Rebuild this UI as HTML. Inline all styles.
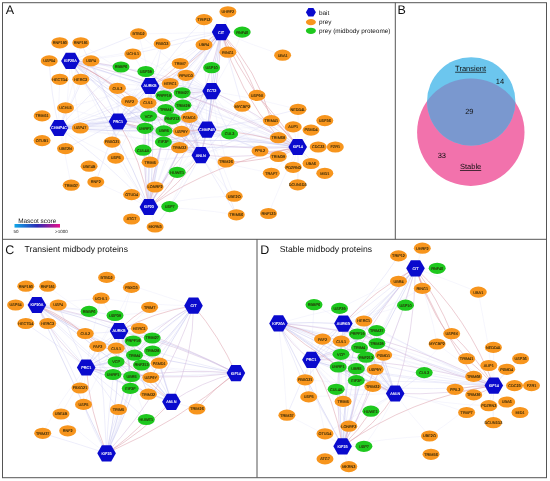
<!DOCTYPE html>
<html><head><meta charset="utf-8"><title>Figure</title>
<style>
html,body{margin:0;padding:0;background:#fff;}
body{width:550px;height:481px;overflow:hidden;font-family:"Liberation Sans",sans-serif;}
svg{display:block}
text{font-family:"Liberation Sans",sans-serif;text-rendering:geometricPrecision;}
.k{font-size:3.8px;fill:#2a2208;stroke:#2a2208;stroke-width:0.09px;text-anchor:middle;}
.w{font-size:3.8px;fill:#fff;stroke:#fff;stroke-width:0.12px;text-anchor:middle;}
.pl{font-size:12.5px;fill:#111;}
.tt{font-size:8.6px;fill:#111;}
.lg{font-size:6.4px;fill:#111;}
.vn{font-size:7.5px;fill:#111;text-anchor:middle;}
</style></head><body>
<svg width="550" height="481" viewBox="0 0 550 481">
<defs><linearGradient id="ms" x1="0" x2="1" y1="0" y2="0"><stop offset="0" stop-color="#10a8e8"/><stop offset="0.5" stop-color="#2a2ab4"/><stop offset="1" stop-color="#e8108c"/></linearGradient></defs>
<rect width="550" height="481" fill="#fff"/>
<g id="edgesA" fill="none"><path d="M70.4 60.9Q64.3 52.3 59.8 42.8" stroke="#ebebfa" stroke-width="0.45"/>
<path d="M70.4 60.9Q76.5 52.4 80.8 42.8" stroke="#ebebfa" stroke-width="0.45"/>
<path d="M70.4 60.9Q59.8 61.4 49.2 60.9" stroke="#ebebfa" stroke-width="0.45"/>
<path d="M70.4 60.9Q80.7 61.4 91.0 60.9" stroke="#ebebfa" stroke-width="0.45"/>
<path d="M70.4 60.9Q66.0 70.6 59.8 79.3" stroke="#ebebfa" stroke-width="0.45"/>
<path d="M70.4 60.9Q75.0 70.4 80.8 79.3" stroke="#ebebfa" stroke-width="0.45"/>
<path d="M70.4 60.9Q117.1 56.7 162.1 43.9" stroke="#ebebfa" stroke-width="0.45"/>
<path d="M70.4 60.9Q101.7 58.6 132.8 54.0" stroke="#ebebfa" stroke-width="0.45"/>
<path d="M70.4 60.9Q125.2 80.7 182.2 92.8" stroke="#ebebfa" stroke-width="0.45"/>
<path d="M70.4 60.9Q129.2 76.6 183.0 105.2" stroke="#ebebfa" stroke-width="0.45"/>
<path d="M70.4 60.9Q124.4 84.6 172.3 118.9" stroke="#ebebfa" stroke-width="0.45"/>
<path d="M70.4 60.9Q74.4 94.6 80.3 128.0" stroke="#ebebfa" stroke-width="0.45"/>
<path d="M70.4 60.9Q65.9 104.6 65.5 148.6" stroke="#ebebfa" stroke-width="0.45"/>
<path d="M70.4 60.9Q95.1 99.5 112.1 142.1" stroke="#ebebfa" stroke-width="0.45"/>
<path d="M150.1 86.0Q113.5 67.5 80.8 42.8" stroke="#ebebfa" stroke-width="0.45"/>
<path d="M150.1 86.0Q121.7 70.7 91.0 60.9" stroke="#ebebfa" stroke-width="0.45"/>
<path d="M150.1 86.0Q115.3 84.4 80.8 79.3" stroke="#ebebfa" stroke-width="0.45"/>
<path d="M150.1 86.0Q146.2 59.5 138.5 33.9" stroke="#ebebfa" stroke-width="0.45"/>
<path d="M150.1 86.0Q142.6 69.4 132.8 54.0" stroke="#ebebfa" stroke-width="0.45"/>
<path d="M150.1 86.0Q148.3 78.7 145.8 71.5" stroke="#ebebfa" stroke-width="0.45"/>
<path d="M150.1 86.0Q166.0 96.5 183.0 105.2" stroke="#ebebfa" stroke-width="0.45"/>
<path d="M150.1 86.0Q162.3 101.7 172.3 118.9" stroke="#ebebfa" stroke-width="0.45"/>
<path d="M150.1 86.0Q181.6 79.3 211.6 67.7" stroke="#ebebfa" stroke-width="0.45"/>
<path d="M150.1 86.0Q107.5 95.8 65.5 107.9" stroke="#ebebfa" stroke-width="0.45"/>
<path d="M150.1 86.0Q116.4 109.1 80.3 128.0" stroke="#ebebfa" stroke-width="0.45"/>
<path d="M150.1 86.0Q134.4 122.8 115.7 158.1" stroke="#ebebfa" stroke-width="0.45"/>
<path d="M150.1 86.0Q189.2 111.0 229.6 133.9" stroke="#ebebfa" stroke-width="0.45"/>
<path d="M150.1 86.0Q146.4 124.1 150.1 162.2" stroke="#ebebfa" stroke-width="0.45"/>
<path d="M221.1 32.1Q179.8 33.4 138.5 33.9" stroke="#ebebfa" stroke-width="0.45"/>
<path d="M221.1 32.1Q184.6 54.0 145.8 71.5" stroke="#ebebfa" stroke-width="0.45"/>
<path d="M221.1 32.1Q171.4 61.6 129.5 101.4" stroke="#ebebfa" stroke-width="0.45"/>
<path d="M221.1 32.1Q185.1 74.3 148.6 116.2" stroke="#ebebfa" stroke-width="0.45"/>
<path d="M221.1 32.1Q212.7 25.7 204.0 19.6" stroke="#ebebfa" stroke-width="0.45"/>
<path d="M221.1 32.1Q224.8 22.0 227.9 11.8" stroke="#ebebfa" stroke-width="0.45"/>
<path d="M221.1 32.1Q231.6 31.4 242.2 32.1" stroke="#ebebfa" stroke-width="0.45"/>
<path d="M221.1 32.1Q216.9 50.0 211.6 67.7" stroke="#ebebfa" stroke-width="0.45"/>
<path d="M221.1 32.1Q186.6 82.9 145.1 128.3" stroke="#ebebfa" stroke-width="0.45"/>
<path d="M221.1 32.1Q183.5 92.1 143.1 150.2" stroke="#ebebfa" stroke-width="0.45"/>
<path d="M221.1 32.1Q251.5 44.7 282.6 55.2" stroke="#ebebfa" stroke-width="0.45"/>
<path d="M211.6 91.1Q173.5 64.4 138.5 33.9" stroke="#ebebfa" stroke-width="0.45"/>
<path d="M211.6 91.1Q171.4 74.2 132.8 54.0" stroke="#ebebfa" stroke-width="0.45"/>
<path d="M211.6 91.1Q165.9 80.4 121.0 67.0" stroke="#ebebfa" stroke-width="0.45"/>
<path d="M211.6 91.1Q187.6 91.8 163.9 95.8" stroke="#ebebfa" stroke-width="0.45"/>
<path d="M211.6 91.1Q164.4 92.4 117.4 88.3" stroke="#ebebfa" stroke-width="0.45"/>
<path d="M211.6 91.1Q179.3 101.6 148.6 116.2" stroke="#ebebfa" stroke-width="0.45"/>
<path d="M211.6 91.1Q203.9 55.8 204.0 19.6" stroke="#ebebfa" stroke-width="0.45"/>
<path d="M211.6 91.1Q223.2 52.2 227.9 11.8" stroke="#ebebfa" stroke-width="0.45"/>
<path d="M211.6 91.1Q230.2 63.3 242.2 32.1" stroke="#ebebfa" stroke-width="0.45"/>
<path d="M211.6 91.1Q211.5 79.4 211.6 67.7" stroke="#ebebfa" stroke-width="0.45"/>
<path d="M211.6 91.1Q187.4 116.5 163.4 142.1" stroke="#ebebfa" stroke-width="0.45"/>
<path d="M211.6 91.1Q217.2 126.9 226.0 162.0" stroke="#ebebfa" stroke-width="0.45"/>
<path d="M211.6 91.1Q177.5 123.7 150.1 162.2" stroke="#ebebfa" stroke-width="0.45"/>
<path d="M211.6 91.1Q255.3 97.6 298.0 109.3" stroke="#ebebfa" stroke-width="0.45"/>
<path d="M211.6 91.1Q244.8 114.7 278.3 137.7" stroke="#ebebfa" stroke-width="0.45"/>
<path d="M211.6 91.1Q233.2 123.1 260.0 151.0" stroke="#ebebfa" stroke-width="0.45"/>
<path d="M118.0 121.5Q142.3 84.0 162.1 43.9" stroke="#ebebfa" stroke-width="0.45"/>
<path d="M118.0 121.5Q118.7 94.2 121.0 67.0" stroke="#ebebfa" stroke-width="0.45"/>
<path d="M118.0 121.5Q131.2 96.1 145.8 71.5" stroke="#ebebfa" stroke-width="0.45"/>
<path d="M118.0 121.5Q151.3 97.3 186.0 75.3" stroke="#ebebfa" stroke-width="0.45"/>
<path d="M118.0 121.5Q116.3 104.9 117.4 88.3" stroke="#ebebfa" stroke-width="0.45"/>
<path d="M118.0 121.5Q91.5 115.8 65.5 107.9" stroke="#ebebfa" stroke-width="0.45"/>
<path d="M118.0 121.5Q116.1 132.1 112.1 142.1" stroke="#ebebfa" stroke-width="0.45"/>
<path d="M118.0 121.5Q131.5 135.0 143.1 150.2" stroke="#ebebfa" stroke-width="0.45"/>
<path d="M118.0 121.5Q133.5 142.3 150.1 162.2" stroke="#ebebfa" stroke-width="0.45"/>
<path d="M59.0 128.0Q74.6 86.6 80.8 42.8" stroke="#ebebfa" stroke-width="0.45"/>
<path d="M59.0 128.0Q58.2 103.6 59.8 79.3" stroke="#ebebfa" stroke-width="0.45"/>
<path d="M59.0 128.0Q70.0 103.7 80.8 79.3" stroke="#ebebfa" stroke-width="0.45"/>
<path d="M59.0 128.0Q113.6 103.2 170.2 83.5" stroke="#ebebfa" stroke-width="0.45"/>
<path d="M59.0 128.0Q122.6 117.3 182.2 92.8" stroke="#ebebfa" stroke-width="0.45"/>
<path d="M59.0 128.0Q90.0 110.7 117.4 88.3" stroke="#ebebfa" stroke-width="0.45"/>
<path d="M59.0 128.0Q104.4 126.7 148.6 116.2" stroke="#ebebfa" stroke-width="0.45"/>
<path d="M59.0 128.0Q63.2 118.3 65.5 107.9" stroke="#ebebfa" stroke-width="0.45"/>
<path d="M59.0 128.0Q50.9 121.5 42.1 115.9" stroke="#ebebfa" stroke-width="0.45"/>
<path d="M59.0 128.0Q69.7 128.6 80.3 128.0" stroke="#ebebfa" stroke-width="0.45"/>
<path d="M59.0 128.0Q51.0 134.9 42.1 140.6" stroke="#ebebfa" stroke-width="0.45"/>
<path d="M59.0 128.0Q62.8 138.1 65.5 148.6" stroke="#ebebfa" stroke-width="0.45"/>
<path d="M59.0 128.0Q86.9 143.9 115.7 158.1" stroke="#ebebfa" stroke-width="0.45"/>
<path d="M59.0 128.0Q65.7 156.5 71.2 185.2" stroke="#ebebfa" stroke-width="0.45"/>
<path d="M59.0 128.0Q111.4 133.3 163.4 142.1" stroke="#ebebfa" stroke-width="0.45"/>
<path d="M59.0 128.0Q120.3 131.3 179.5 147.7" stroke="#ebebfa" stroke-width="0.45"/>
<path d="M207.0 129.6Q193.5 96.6 180.2 63.5" stroke="#ebebfa" stroke-width="0.45"/>
<path d="M207.0 129.6Q197.2 102.2 186.0 75.3" stroke="#ebebfa" stroke-width="0.45"/>
<path d="M207.0 129.6Q193.7 118.7 183.0 105.2" stroke="#ebebfa" stroke-width="0.45"/>
<path d="M207.0 129.6Q177.1 126.0 148.6 116.2" stroke="#ebebfa" stroke-width="0.45"/>
<path d="M207.0 129.6Q206.2 87.1 204.0 44.7" stroke="#ebebfa" stroke-width="0.45"/>
<path d="M207.0 129.6Q218.4 131.2 229.6 133.9" stroke="#ebebfa" stroke-width="0.45"/>
<path d="M207.0 129.6Q175.0 139.7 143.1 150.2" stroke="#ebebfa" stroke-width="0.45"/>
<path d="M207.0 129.6Q191.9 150.8 177.2 172.3" stroke="#ebebfa" stroke-width="0.45"/>
<path d="M207.0 129.6Q189.2 168.5 169.7 206.6" stroke="#ebebfa" stroke-width="0.45"/>
<path d="M207.0 129.6Q222.2 162.3 234.2 196.2" stroke="#ebebfa" stroke-width="0.45"/>
<path d="M207.0 129.6Q238.8 122.3 271.3 120.6" stroke="#ebebfa" stroke-width="0.45"/>
<path d="M207.0 129.6Q250.1 126.9 293.2 126.9" stroke="#ebebfa" stroke-width="0.45"/>
<path d="M207.0 129.6Q242.3 136.5 278.3 137.7" stroke="#ebebfa" stroke-width="0.45"/>
<path d="M207.0 129.6Q234.4 138.1 260.0 151.0" stroke="#ebebfa" stroke-width="0.45"/>
<path d="M207.0 129.6Q252.3 143.4 293.2 167.3" stroke="#ebebfa" stroke-width="0.45"/>
<path d="M200.8 155.2Q196.3 114.7 186.0 75.3" stroke="#ebebfa" stroke-width="0.45"/>
<path d="M200.8 155.2Q175.7 127.8 148.1 103.0" stroke="#ebebfa" stroke-width="0.45"/>
<path d="M200.8 155.2Q174.5 136.0 148.6 116.2" stroke="#ebebfa" stroke-width="0.45"/>
<path d="M200.8 155.2Q158.4 161.1 115.7 158.1" stroke="#ebebfa" stroke-width="0.45"/>
<path d="M200.8 155.2Q213.7 157.5 226.0 162.0" stroke="#ebebfa" stroke-width="0.45"/>
<path d="M200.8 155.2Q175.3 157.7 150.1 162.2" stroke="#ebebfa" stroke-width="0.45"/>
<path d="M200.8 155.2Q189.5 164.4 177.2 172.3" stroke="#ebebfa" stroke-width="0.45"/>
<path d="M200.8 155.2Q176.8 169.4 155.1 187.0" stroke="#ebebfa" stroke-width="0.45"/>
<path d="M200.8 155.2Q215.2 177.6 234.2 196.2" stroke="#ebebfa" stroke-width="0.45"/>
<path d="M200.8 155.2Q238.6 142.3 278.3 137.7" stroke="#ebebfa" stroke-width="0.45"/>
<path d="M200.8 155.2Q235.4 167.0 271.3 173.3" stroke="#ebebfa" stroke-width="0.45"/>
<path d="M148.9 207.0Q170.9 151.5 182.2 92.8" stroke="#ebebfa" stroke-width="0.45"/>
<path d="M148.9 207.0Q167.1 156.5 183.0 105.2" stroke="#ebebfa" stroke-width="0.45"/>
<path d="M148.9 207.0Q132.8 182.2 115.7 158.1" stroke="#ebebfa" stroke-width="0.45"/>
<path d="M148.9 207.0Q122.7 193.9 95.8 182.0" stroke="#ebebfa" stroke-width="0.45"/>
<path d="M148.9 207.0Q140.3 200.8 131.6 194.6" stroke="#ebebfa" stroke-width="0.45"/>
<path d="M148.9 207.0Q140.3 213.0 131.6 219.0" stroke="#ebebfa" stroke-width="0.45"/>
<path d="M148.9 207.0Q162.2 167.9 181.5 131.4" stroke="#ebebfa" stroke-width="0.45"/>
<path d="M148.9 207.0Q152.3 173.7 163.4 142.1" stroke="#ebebfa" stroke-width="0.45"/>
<path d="M148.9 207.0Q159.3 205.7 169.7 206.6" stroke="#ebebfa" stroke-width="0.45"/>
<path d="M148.9 207.0Q190.9 196.7 234.2 196.2" stroke="#ebebfa" stroke-width="0.45"/>
<path d="M148.9 207.0Q192.9 207.6 236.3 214.8" stroke="#ebebfa" stroke-width="0.45"/>
<path d="M148.9 207.0Q152.8 216.7 155.1 227.0" stroke="#ebebfa" stroke-width="0.45"/>
<path d="M297.7 147.0Q237.1 109.0 170.2 83.5" stroke="#ebebfa" stroke-width="0.45"/>
<path d="M297.7 147.0Q237.4 125.4 182.2 92.8" stroke="#ebebfa" stroke-width="0.45"/>
<path d="M297.7 147.0Q240.9 124.5 183.0 105.2" stroke="#ebebfa" stroke-width="0.45"/>
<path d="M297.7 147.0Q232.4 125.8 165.7 109.6" stroke="#ebebfa" stroke-width="0.45"/>
<path d="M297.7 147.0Q234.0 137.5 172.3 118.9" stroke="#ebebfa" stroke-width="0.45"/>
<path d="M297.7 147.0Q269.5 127.2 242.2 106.2" stroke="#ebebfa" stroke-width="0.45"/>
<path d="M297.7 147.0Q263.7 140.3 229.6 133.9" stroke="#ebebfa" stroke-width="0.45"/>
<path d="M297.7 147.0Q282.0 179.8 268.5 213.5" stroke="#ebebfa" stroke-width="0.45"/>
<path d="M297.7 147.0Q298.5 128.2 298.0 109.3" stroke="#ebebfa" stroke-width="0.45"/>
<path d="M297.7 147.0Q311.0 133.5 324.8 120.6" stroke="#ebebfa" stroke-width="0.45"/>
<path d="M297.7 147.0Q295.7 136.9 293.2 126.9" stroke="#ebebfa" stroke-width="0.45"/>
<path d="M297.7 147.0Q304.4 138.6 311.0 130.1" stroke="#ebebfa" stroke-width="0.45"/>
<path d="M297.7 147.0Q287.5 143.4 278.3 137.7" stroke="#ebebfa" stroke-width="0.45"/>
<path d="M297.7 147.0Q307.9 147.3 318.2 147.0" stroke="#ebebfa" stroke-width="0.45"/>
<path d="M297.7 147.0Q303.4 156.0 311.0 163.5" stroke="#ebebfa" stroke-width="0.45"/>
<path d="M297.7 147.0Q294.9 157.0 293.2 167.3" stroke="#ebebfa" stroke-width="0.45"/>
<path d="M297.7 147.0Q284.6 160.2 271.3 173.3" stroke="#ebebfa" stroke-width="0.45"/>
<path d="M70.4 60.9Q104.6 47.7 138.5 33.9" stroke="#dadaf5" stroke-width="0.45"/>
<path d="M70.4 60.9Q95.8 63.2 121.0 67.0" stroke="#dadaf5" stroke-width="0.45"/>
<path d="M70.4 60.9Q108.2 65.6 145.8 71.5" stroke="#dadaf5" stroke-width="0.45"/>
<path d="M70.4 60.9Q115.6 90.0 165.7 109.6" stroke="#dadaf5" stroke-width="0.45"/>
<path d="M70.4 60.9Q95.3 72.2 117.4 88.3" stroke="#dadaf5" stroke-width="0.45"/>
<path d="M70.4 60.9Q106.5 96.0 145.1 128.3" stroke="#dadaf5" stroke-width="0.45"/>
<path d="M70.4 60.9Q119.9 92.3 163.9 130.9" stroke="#dadaf5" stroke-width="0.45"/>
<path d="M150.1 86.0Q158.6 65.7 162.1 43.9" stroke="#dadaf5" stroke-width="0.45"/>
<path d="M150.1 86.0Q160.1 84.2 170.2 83.5" stroke="#dadaf5" stroke-width="0.45"/>
<path d="M150.1 86.0Q168.2 81.3 186.0 75.3" stroke="#dadaf5" stroke-width="0.45"/>
<path d="M150.1 86.0Q157.4 90.3 163.9 95.8" stroke="#dadaf5" stroke-width="0.45"/>
<path d="M150.1 86.0Q156.8 98.5 165.7 109.6" stroke="#dadaf5" stroke-width="0.45"/>
<path d="M150.1 86.0Q148.2 94.4 148.1 103.0" stroke="#dadaf5" stroke-width="0.45"/>
<path d="M150.1 86.0Q139.0 92.6 129.5 101.4" stroke="#dadaf5" stroke-width="0.45"/>
<path d="M150.1 86.0Q150.2 101.1 148.6 116.2" stroke="#dadaf5" stroke-width="0.45"/>
<path d="M150.1 86.0Q173.5 49.9 204.0 19.6" stroke="#dadaf5" stroke-width="0.45"/>
<path d="M150.1 86.0Q180.8 89.6 211.6 91.1" stroke="#dadaf5" stroke-width="0.45"/>
<path d="M150.1 86.0Q129.9 113.2 112.1 142.1" stroke="#dadaf5" stroke-width="0.45"/>
<path d="M150.1 86.0Q177.6 109.1 207.0 129.6" stroke="#dadaf5" stroke-width="0.45"/>
<path d="M150.1 86.0Q143.4 117.7 143.1 150.2" stroke="#dadaf5" stroke-width="0.45"/>
<path d="M221.1 32.1Q190.9 34.7 162.1 43.9" stroke="#dadaf5" stroke-width="0.45"/>
<path d="M221.1 32.1Q177.5 45.2 132.8 54.0" stroke="#dadaf5" stroke-width="0.45"/>
<path d="M221.1 32.1Q193.0 55.2 170.2 83.5" stroke="#dadaf5" stroke-width="0.45"/>
<path d="M221.1 32.1Q199.2 45.9 180.2 63.5" stroke="#dadaf5" stroke-width="0.45"/>
<path d="M221.1 32.1Q197.3 73.6 165.7 109.6" stroke="#dadaf5" stroke-width="0.45"/>
<path d="M221.1 32.1Q231.6 69.2 242.2 106.2" stroke="#dadaf5" stroke-width="0.45"/>
<path d="M221.1 32.1Q173.1 80.9 118.0 121.5" stroke="#dadaf5" stroke-width="0.45"/>
<path d="M221.1 32.1Q186.9 84.3 163.4 142.1" stroke="#dadaf5" stroke-width="0.45"/>
<path d="M211.6 91.1Q179.5 78.6 145.8 71.5" stroke="#dadaf5" stroke-width="0.45"/>
<path d="M211.6 91.1Q198.2 84.1 186.0 75.3" stroke="#dadaf5" stroke-width="0.45"/>
<path d="M211.6 91.1Q197.0 93.2 182.2 92.8" stroke="#dadaf5" stroke-width="0.45"/>
<path d="M211.6 91.1Q196.6 96.7 183.0 105.2" stroke="#dadaf5" stroke-width="0.45"/>
<path d="M211.6 91.1Q170.9 99.3 129.5 101.4" stroke="#dadaf5" stroke-width="0.45"/>
<path d="M211.6 91.1Q200.8 104.5 189.3 117.4" stroke="#dadaf5" stroke-width="0.45"/>
<path d="M211.6 91.1Q226.7 99.0 242.2 106.2" stroke="#dadaf5" stroke-width="0.45"/>
<path d="M211.6 91.1Q178.9 110.7 145.1 128.3" stroke="#dadaf5" stroke-width="0.45"/>
<path d="M211.6 91.1Q194.8 110.0 181.5 131.4" stroke="#dadaf5" stroke-width="0.45"/>
<path d="M211.6 91.1Q218.4 113.4 229.6 133.9" stroke="#dadaf5" stroke-width="0.45"/>
<path d="M211.6 91.1Q192.3 117.5 179.5 147.7" stroke="#dadaf5" stroke-width="0.45"/>
<path d="M211.6 91.1Q191.1 130.3 177.2 172.3" stroke="#dadaf5" stroke-width="0.45"/>
<path d="M118.0 121.5Q99.7 82.0 80.8 42.8" stroke="#dadaf5" stroke-width="0.45"/>
<path d="M118.0 121.5Q104.3 91.3 91.0 60.9" stroke="#dadaf5" stroke-width="0.45"/>
<path d="M118.0 121.5Q144.2 102.7 170.2 83.5" stroke="#dadaf5" stroke-width="0.45"/>
<path d="M118.0 121.5Q148.4 103.3 182.2 92.8" stroke="#dadaf5" stroke-width="0.45"/>
<path d="M118.0 121.5Q139.5 106.0 163.9 95.8" stroke="#dadaf5" stroke-width="0.45"/>
<path d="M118.0 121.5Q142.5 118.2 165.7 109.6" stroke="#dadaf5" stroke-width="0.45"/>
<path d="M118.0 121.5Q123.1 111.1 129.5 101.4" stroke="#dadaf5" stroke-width="0.45"/>
<path d="M118.0 121.5Q133.5 120.3 148.6 116.2" stroke="#dadaf5" stroke-width="0.45"/>
<path d="M118.0 121.5Q98.9 123.4 80.3 128.0" stroke="#dadaf5" stroke-width="0.45"/>
<path d="M118.0 121.5Q92.1 135.7 65.5 148.6" stroke="#dadaf5" stroke-width="0.45"/>
<path d="M118.0 121.5Q106.3 151.5 95.8 182.0" stroke="#dadaf5" stroke-width="0.45"/>
<path d="M118.0 121.5Q131.5 125.1 145.1 128.3" stroke="#dadaf5" stroke-width="0.45"/>
<path d="M118.0 121.5Q141.5 130.0 163.4 142.1" stroke="#dadaf5" stroke-width="0.45"/>
<path d="M118.0 121.5Q150.2 131.2 179.5 147.7" stroke="#dadaf5" stroke-width="0.45"/>
<path d="M59.0 128.0Q51.0 94.9 49.2 60.9" stroke="#dadaf5" stroke-width="0.45"/>
<path d="M59.0 128.0Q76.0 94.9 91.0 60.9" stroke="#dadaf5" stroke-width="0.45"/>
<path d="M59.0 128.0Q87.5 95.0 121.0 67.0" stroke="#dadaf5" stroke-width="0.45"/>
<path d="M59.0 128.0Q122.3 123.7 183.0 105.2" stroke="#dadaf5" stroke-width="0.45"/>
<path d="M59.0 128.0Q94.9 116.4 129.5 101.4" stroke="#dadaf5" stroke-width="0.45"/>
<path d="M59.0 128.0Q123.6 115.4 189.3 117.4" stroke="#dadaf5" stroke-width="0.45"/>
<path d="M59.0 128.0Q115.3 118.5 172.3 118.9" stroke="#dadaf5" stroke-width="0.45"/>
<path d="M59.0 128.0Q120.2 131.8 181.5 131.4" stroke="#dadaf5" stroke-width="0.45"/>
<path d="M59.0 128.0Q108.3 162.6 148.9 207.0" stroke="#dadaf5" stroke-width="0.45"/>
<path d="M59.0 128.0Q179.3 125.1 297.7 147.0" stroke="#dadaf5" stroke-width="0.45"/>
<path d="M207.0 129.6Q186.1 108.6 170.2 83.5" stroke="#dadaf5" stroke-width="0.45"/>
<path d="M207.0 129.6Q196.2 110.1 182.2 92.8" stroke="#dadaf5" stroke-width="0.45"/>
<path d="M207.0 129.6Q198.5 122.9 189.3 117.4" stroke="#dadaf5" stroke-width="0.45"/>
<path d="M207.0 129.6Q189.3 125.5 172.3 118.9" stroke="#dadaf5" stroke-width="0.45"/>
<path d="M207.0 129.6Q212.7 98.9 211.6 67.7" stroke="#dadaf5" stroke-width="0.45"/>
<path d="M207.0 129.6Q176.1 128.7 145.1 128.3" stroke="#dadaf5" stroke-width="0.45"/>
<path d="M207.0 129.6Q194.2 130.0 181.5 131.4" stroke="#dadaf5" stroke-width="0.45"/>
<path d="M207.0 129.6Q192.4 137.4 179.5 147.7" stroke="#dadaf5" stroke-width="0.45"/>
<path d="M207.0 129.6Q219.0 173.1 236.3 214.8" stroke="#dadaf5" stroke-width="0.45"/>
<path d="M207.0 129.6Q253.0 121.8 298.0 109.3" stroke="#dadaf5" stroke-width="0.45"/>
<path d="M207.0 129.6Q243.0 142.1 278.3 156.5" stroke="#dadaf5" stroke-width="0.45"/>
<path d="M200.8 155.2Q173.3 122.1 150.1 86.0" stroke="#dadaf5" stroke-width="0.45"/>
<path d="M200.8 155.2Q182.9 120.4 170.2 83.5" stroke="#dadaf5" stroke-width="0.45"/>
<path d="M200.8 155.2Q185.4 110.5 180.2 63.5" stroke="#dadaf5" stroke-width="0.45"/>
<path d="M200.8 155.2Q209.7 123.7 211.6 91.1" stroke="#dadaf5" stroke-width="0.45"/>
<path d="M200.8 155.2Q223.9 132.7 242.2 106.2" stroke="#dadaf5" stroke-width="0.45"/>
<path d="M200.8 155.2Q164.3 185.0 131.6 219.0" stroke="#dadaf5" stroke-width="0.45"/>
<path d="M200.8 155.2Q171.6 144.5 145.1 128.3" stroke="#dadaf5" stroke-width="0.45"/>
<path d="M200.8 155.2Q191.9 142.7 181.5 131.4" stroke="#dadaf5" stroke-width="0.45"/>
<path d="M200.8 155.2Q190.3 151.1 179.5 147.7" stroke="#dadaf5" stroke-width="0.45"/>
<path d="M200.8 155.2Q218.7 184.9 236.3 214.8" stroke="#dadaf5" stroke-width="0.45"/>
<path d="M200.8 155.2Q181.1 193.1 155.1 227.0" stroke="#dadaf5" stroke-width="0.45"/>
<path d="M200.8 155.2Q237.3 140.4 271.3 120.6" stroke="#dadaf5" stroke-width="0.45"/>
<path d="M148.9 207.0Q161.7 145.6 170.2 83.5" stroke="#dadaf5" stroke-width="0.45"/>
<path d="M148.9 207.0Q128.9 175.5 112.1 142.1" stroke="#dadaf5" stroke-width="0.45"/>
<path d="M148.9 207.0Q145.5 167.7 145.1 128.3" stroke="#dadaf5" stroke-width="0.45"/>
<path d="M148.9 207.0Q154.2 168.5 163.9 130.9" stroke="#dadaf5" stroke-width="0.45"/>
<path d="M148.9 207.0Q145.0 178.7 143.1 150.2" stroke="#dadaf5" stroke-width="0.45"/>
<path d="M148.9 207.0Q167.3 178.9 179.5 147.7" stroke="#dadaf5" stroke-width="0.45"/>
<path d="M148.9 207.0Q147.1 184.5 150.1 162.2" stroke="#dadaf5" stroke-width="0.45"/>
<path d="M297.7 147.0Q232.4 117.2 163.9 95.8" stroke="#dadaf5" stroke-width="0.45"/>
<path d="M297.7 147.0Q224.7 124.3 148.6 116.2" stroke="#dadaf5" stroke-width="0.45"/>
<path d="M297.7 147.0Q222.0 132.7 145.1 128.3" stroke="#dadaf5" stroke-width="0.45"/>
<path d="M297.7 147.0Q231.0 137.3 163.9 130.9" stroke="#dadaf5" stroke-width="0.45"/>
<path d="M297.7 147.0Q311.3 160.1 324.8 173.3" stroke="#dadaf5" stroke-width="0.45"/>
<path d="M297.7 147.0Q298.7 165.9 297.7 184.8" stroke="#dadaf5" stroke-width="0.45"/>
<path d="M70.4 60.9Q107.9 90.9 148.6 116.2" stroke="#c2c2ec" stroke-width="0.50"/>
<path d="M70.4 60.9Q121.9 108.1 179.5 147.7" stroke="#c2c2ec" stroke-width="0.50"/>
<path d="M70.4 60.9Q117.9 129.5 148.9 207.0" stroke="#c2c2ec" stroke-width="0.50"/>
<path d="M150.1 86.0Q110.3 73.3 70.4 60.9" stroke="#c2c2ec" stroke-width="0.50"/>
<path d="M150.1 86.0Q171.2 99.8 189.3 117.4" stroke="#c2c2ec" stroke-width="0.50"/>
<path d="M150.1 86.0Q134.2 103.9 118.0 121.5" stroke="#c2c2ec" stroke-width="0.50"/>
<path d="M150.1 86.0Q156.1 146.6 148.9 207.0" stroke="#c2c2ec" stroke-width="0.50"/>
<path d="M221.1 32.1Q192.0 63.5 163.9 95.8" stroke="#c2c2ec" stroke-width="0.50"/>
<path d="M221.1 32.1Q182.8 65.7 148.1 103.0" stroke="#c2c2ec" stroke-width="0.50"/>
<path d="M221.1 32.1Q214.0 61.2 211.6 91.1" stroke="#c2c2ec" stroke-width="0.50"/>
<path d="M221.1 32.1Q191.6 81.0 163.9 130.9" stroke="#c2c2ec" stroke-width="0.50"/>
<path d="M211.6 91.1Q190.7 88.4 170.2 83.5" stroke="#c2c2ec" stroke-width="0.50"/>
<path d="M211.6 91.1Q188.8 100.7 165.7 109.6" stroke="#c2c2ec" stroke-width="0.50"/>
<path d="M211.6 91.1Q179.9 148.9 148.9 207.0" stroke="#c2c2ec" stroke-width="0.50"/>
<path d="M118.0 121.5Q150.1 111.7 183.0 105.2" stroke="#c2c2ec" stroke-width="0.50"/>
<path d="M118.0 121.5Q145.2 121.8 172.3 118.9" stroke="#c2c2ec" stroke-width="0.50"/>
<path d="M59.0 128.0Q111.4 113.1 165.7 109.6" stroke="#c2c2ec" stroke-width="0.50"/>
<path d="M59.0 128.0Q88.4 123.7 118.0 121.5" stroke="#c2c2ec" stroke-width="0.50"/>
<path d="M59.0 128.0Q102.1 124.0 145.1 128.3" stroke="#c2c2ec" stroke-width="0.50"/>
<path d="M59.0 128.0Q111.4 131.9 163.9 130.9" stroke="#c2c2ec" stroke-width="0.50"/>
<path d="M207.0 129.6Q186.8 111.0 163.9 95.8" stroke="#c2c2ec" stroke-width="0.50"/>
<path d="M207.0 129.6Q187.5 117.3 165.7 109.6" stroke="#c2c2ec" stroke-width="0.50"/>
<path d="M207.0 129.6Q215.1 81.0 221.1 32.1" stroke="#c2c2ec" stroke-width="0.50"/>
<path d="M207.0 129.6Q211.4 110.6 211.6 91.1" stroke="#c2c2ec" stroke-width="0.50"/>
<path d="M207.0 129.6Q185.2 135.8 163.4 142.1" stroke="#c2c2ec" stroke-width="0.50"/>
<path d="M200.8 155.2Q192.4 130.0 183.0 105.2" stroke="#c2c2ec" stroke-width="0.50"/>
<path d="M200.8 155.2Q181.4 133.8 165.7 109.6" stroke="#c2c2ec" stroke-width="0.50"/>
<path d="M200.8 155.2Q196.5 135.9 189.3 117.4" stroke="#c2c2ec" stroke-width="0.50"/>
<path d="M200.8 155.2Q161.2 134.0 118.0 121.5" stroke="#c2c2ec" stroke-width="0.50"/>
<path d="M200.8 155.2Q181.6 144.2 163.9 130.9" stroke="#c2c2ec" stroke-width="0.50"/>
<path d="M200.8 155.2Q202.9 142.2 207.0 129.6" stroke="#c2c2ec" stroke-width="0.50"/>
<path d="M200.8 155.2Q182.8 146.7 163.4 142.1" stroke="#c2c2ec" stroke-width="0.50"/>
<path d="M148.9 207.0Q160.4 158.8 165.7 109.6" stroke="#c2c2ec" stroke-width="0.50"/>
<path d="M148.9 207.0Q148.6 161.6 148.6 116.2" stroke="#c2c2ec" stroke-width="0.50"/>
<path d="M297.7 147.0Q230.8 136.6 163.4 142.1" stroke="#c2c2ec" stroke-width="0.50"/>
<path d="M297.7 147.0Q238.6 146.5 179.5 147.7" stroke="#c2c2ec" stroke-width="0.50"/>
<path d="M70.4 60.9Q122.6 62.2 170.2 83.5" stroke="#d2b8da" stroke-width="0.50"/>
<path d="M70.4 60.9Q90.7 93.9 118.0 121.5" stroke="#d2b8da" stroke-width="0.50"/>
<path d="M150.1 86.0Q151.6 110.1 163.9 130.9" stroke="#d2b8da" stroke-width="0.50"/>
<path d="M150.1 86.0Q229.0 104.1 297.7 147.0" stroke="#d2b8da" stroke-width="0.50"/>
<path d="M221.1 32.1Q198.9 125.3 148.9 207.0" stroke="#d2b8da" stroke-width="0.50"/>
<path d="M211.6 91.1Q179.0 92.5 148.1 103.0" stroke="#d2b8da" stroke-width="0.50"/>
<path d="M211.6 91.1Q259.1 112.1 297.7 147.0" stroke="#d2b8da" stroke-width="0.50"/>
<path d="M118.0 121.5Q142.1 120.4 163.9 130.9" stroke="#d2b8da" stroke-width="0.50"/>
<path d="M207.0 129.6Q175.1 121.7 148.1 103.0" stroke="#d2b8da" stroke-width="0.50"/>
<path d="M207.0 129.6Q185.6 133.6 163.9 130.9" stroke="#d2b8da" stroke-width="0.50"/>
<path d="M207.0 129.6Q170.8 163.0 148.9 207.0" stroke="#d2b8da" stroke-width="0.50"/>
<path d="M200.8 155.2Q188.5 121.7 163.9 95.8" stroke="#d2b8da" stroke-width="0.50"/>
<path d="M200.8 155.2Q218.8 94.9 221.1 32.1" stroke="#d2b8da" stroke-width="0.50"/>
<path d="M200.8 155.2Q172.5 146.6 143.1 150.2" stroke="#d2b8da" stroke-width="0.50"/>
<path d="M200.8 155.2Q250.0 160.4 297.7 147.0" stroke="#d2b8da" stroke-width="0.50"/>
<path d="M148.9 207.0Q140.5 155.1 148.1 103.0" stroke="#d2b8da" stroke-width="0.50"/>
<path d="M148.9 207.0Q152.6 160.8 172.3 118.9" stroke="#d2b8da" stroke-width="0.50"/>
<path d="M297.7 147.0Q190.4 87.1 70.4 60.9" stroke="#d2b8da" stroke-width="0.50"/>
<path d="M297.7 147.0Q205.1 153.6 118.0 121.5" stroke="#d2b8da" stroke-width="0.50"/>
<path d="M70.4 60.9Q104.3 74.8 129.5 101.4" stroke="#dea4ae" stroke-width="0.55"/>
<path d="M150.1 86.0Q166.6 76.6 180.2 63.5" stroke="#dea4ae" stroke-width="0.55"/>
<path d="M150.1 86.0Q192.4 68.0 221.1 32.1" stroke="#dea4ae" stroke-width="0.55"/>
<path d="M221.1 32.1Q210.9 36.2 204.0 44.7" stroke="#dea4ae" stroke-width="0.55"/>
<path d="M221.1 32.1Q225.8 41.7 227.9 52.2" stroke="#dea4ae" stroke-width="0.55"/>
<path d="M221.1 32.1Q243.2 61.4 257.0 95.4" stroke="#dea4ae" stroke-width="0.55"/>
<path d="M221.1 32.1Q257.6 69.9 271.3 120.6" stroke="#dea4ae" stroke-width="0.55"/>
<path d="M221.1 32.1Q238.2 91.1 278.3 137.7" stroke="#dea4ae" stroke-width="0.55"/>
<path d="M221.1 32.1Q251.1 95.1 297.7 147.0" stroke="#dea4ae" stroke-width="0.55"/>
<path d="M207.0 129.6Q161.7 134.5 118.0 121.5" stroke="#dea4ae" stroke-width="0.55"/>
<path d="M207.0 129.6Q253.6 131.7 297.7 147.0" stroke="#dea4ae" stroke-width="0.55"/>
<path d="M200.8 155.2Q143.8 96.7 70.4 60.9" stroke="#dea4ae" stroke-width="0.55"/>
<path d="M200.8 155.2Q179.1 185.4 148.9 207.0" stroke="#dea4ae" stroke-width="0.55"/>
<path d="M148.9 207.0Q142.5 161.0 118.0 121.5" stroke="#dea4ae" stroke-width="0.55"/>
<path d="M148.9 207.0Q166.1 192.1 177.2 172.3" stroke="#dea4ae" stroke-width="0.55"/>
<path d="M148.9 207.0Q150.6 196.6 155.1 187.0" stroke="#dea4ae" stroke-width="0.55"/>
<path d="M297.7 147.0Q280.0 119.1 257.0 95.4" stroke="#dea4ae" stroke-width="0.55"/>
<path d="M297.7 147.0Q263.7 163.3 226.0 162.0" stroke="#dea4ae" stroke-width="0.55"/>
<path d="M297.7 147.0Q216.9 161.2 148.9 207.0" stroke="#dea4ae" stroke-width="0.55"/>
<path d="M297.7 147.0Q287.6 130.7 271.3 120.6" stroke="#dea4ae" stroke-width="0.55"/>
<path d="M297.7 147.0Q279.3 152.9 260.0 151.0" stroke="#dea4ae" stroke-width="0.55"/>
<path d="M297.7 147.0Q288.8 153.4 278.3 156.5" stroke="#dea4ae" stroke-width="0.55"/></g>
<g id="edgesC" fill="none"><path d="M36.9 305.0Q30.4 296.2 25.8 286.2" stroke="#ebebfa" stroke-width="0.45"/>
<path d="M36.9 305.0Q42.1 295.5 47.7 286.2" stroke="#ebebfa" stroke-width="0.45"/>
<path d="M36.9 305.0Q26.2 304.5 15.6 305.0" stroke="#ebebfa" stroke-width="0.45"/>
<path d="M36.9 305.0Q47.5 306.1 58.2 305.0" stroke="#ebebfa" stroke-width="0.45"/>
<path d="M36.9 305.0Q31.2 314.1 25.8 323.5" stroke="#ebebfa" stroke-width="0.45"/>
<path d="M36.9 305.0Q43.4 313.6 47.7 323.5" stroke="#ebebfa" stroke-width="0.45"/>
<path d="M36.9 305.0Q68.9 300.7 101.1 298.2" stroke="#ebebfa" stroke-width="0.45"/>
<path d="M36.9 305.0Q63.0 308.5 89.1 311.4" stroke="#ebebfa" stroke-width="0.45"/>
<path d="M36.9 305.0Q85.5 330.5 134.5 355.2" stroke="#ebebfa" stroke-width="0.45"/>
<path d="M36.9 305.0Q90.2 333.2 141.5 365.0" stroke="#ebebfa" stroke-width="0.45"/>
<path d="M119.1 331.0Q81.0 312.3 47.7 286.2" stroke="#ebebfa" stroke-width="0.45"/>
<path d="M119.1 331.0Q124.7 309.0 131.4 287.4" stroke="#ebebfa" stroke-width="0.45"/>
<path d="M119.1 331.0Q110.2 314.6 101.1 298.2" stroke="#ebebfa" stroke-width="0.45"/>
<path d="M119.1 331.0Q116.6 323.4 115.0 315.5" stroke="#ebebfa" stroke-width="0.45"/>
<path d="M119.1 331.0Q129.2 376.3 146.3 419.5" stroke="#ebebfa" stroke-width="0.45"/>
<path d="M119.1 331.0Q102.9 368.5 83.5 404.4" stroke="#ebebfa" stroke-width="0.45"/>
<path d="M193.5 305.7Q150.1 291.5 106.6 277.4" stroke="#ebebfa" stroke-width="0.45"/>
<path d="M193.5 305.7Q147.0 305.3 101.1 298.2" stroke="#ebebfa" stroke-width="0.45"/>
<path d="M193.5 305.7Q154.6 313.3 115.0 315.5" stroke="#ebebfa" stroke-width="0.45"/>
<path d="M193.5 305.7Q157.5 337.5 116.1 361.8" stroke="#ebebfa" stroke-width="0.45"/>
<path d="M86.2 367.5Q111.7 329.1 131.4 287.4" stroke="#ebebfa" stroke-width="0.45"/>
<path d="M86.2 367.5Q91.9 332.5 101.1 298.2" stroke="#ebebfa" stroke-width="0.45"/>
<path d="M86.2 367.5Q101.1 341.8 115.0 315.5" stroke="#ebebfa" stroke-width="0.45"/>
<path d="M86.2 367.5Q116.9 336.3 149.6 307.3" stroke="#ebebfa" stroke-width="0.45"/>
<path d="M86.2 367.5Q82.4 377.5 80.0 388.0" stroke="#ebebfa" stroke-width="0.45"/>
<path d="M86.2 367.5Q83.3 385.8 83.5 404.4" stroke="#ebebfa" stroke-width="0.45"/>
<path d="M86.2 367.5Q75.0 391.5 61.0 414.0" stroke="#ebebfa" stroke-width="0.45"/>
<path d="M86.2 367.5Q61.1 398.2 42.7 433.3" stroke="#ebebfa" stroke-width="0.45"/>
<path d="M171.4 401.8Q134.6 374.1 97.8 346.3" stroke="#ebebfa" stroke-width="0.45"/>
<path d="M171.4 401.8Q164.2 375.6 152.5 351.0" stroke="#ebebfa" stroke-width="0.45"/>
<path d="M171.4 401.8Q150.6 395.7 130.3 388.4" stroke="#ebebfa" stroke-width="0.45"/>
<path d="M171.4 401.8Q184.2 405.3 197.0 409.0" stroke="#ebebfa" stroke-width="0.45"/>
<path d="M171.4 401.8Q159.7 411.9 146.3 419.5" stroke="#ebebfa" stroke-width="0.45"/>
<path d="M235.9 373.1Q175.8 370.1 116.1 361.8" stroke="#ebebfa" stroke-width="0.45"/>
<path d="M235.9 373.1Q188.2 374.4 141.5 365.0" stroke="#ebebfa" stroke-width="0.45"/>
<path d="M106.6 453.3Q126.4 394.4 152.2 338.0" stroke="#ebebfa" stroke-width="0.45"/>
<path d="M106.6 453.3Q121.8 404.6 134.5 355.2" stroke="#ebebfa" stroke-width="0.45"/>
<path d="M106.6 453.3Q81.9 435.9 61.0 414.0" stroke="#ebebfa" stroke-width="0.45"/>
<path d="M36.9 305.0Q76.3 307.5 115.0 315.5" stroke="#dadaf5" stroke-width="0.45"/>
<path d="M36.9 305.0Q59.8 321.4 85.3 333.5" stroke="#dadaf5" stroke-width="0.45"/>
<path d="M36.9 305.0Q87.9 317.5 139.3 328.3" stroke="#dadaf5" stroke-width="0.45"/>
<path d="M36.9 305.0Q74.2 340.5 113.0 374.5" stroke="#dadaf5" stroke-width="0.45"/>
<path d="M36.9 305.0Q61.3 345.0 80.0 388.0" stroke="#dadaf5" stroke-width="0.45"/>
<path d="M36.9 305.0Q79.3 351.5 130.3 388.4" stroke="#dadaf5" stroke-width="0.45"/>
<path d="M119.1 331.0Q102.3 333.1 85.3 333.5" stroke="#dadaf5" stroke-width="0.45"/>
<path d="M119.1 331.0Q109.2 339.7 97.8 346.3" stroke="#dadaf5" stroke-width="0.45"/>
<path d="M119.1 331.0Q117.8 339.6 116.2 348.2" stroke="#dadaf5" stroke-width="0.45"/>
<path d="M119.1 331.0Q126.0 336.2 133.1 341.0" stroke="#dadaf5" stroke-width="0.45"/>
<path d="M119.1 331.0Q129.2 329.9 139.3 328.3" stroke="#dadaf5" stroke-width="0.45"/>
<path d="M119.1 331.0Q136.0 333.0 152.2 338.0" stroke="#dadaf5" stroke-width="0.45"/>
<path d="M119.1 331.0Q125.8 343.7 134.5 355.2" stroke="#dadaf5" stroke-width="0.45"/>
<path d="M119.1 331.0Q118.2 346.5 116.1 361.8" stroke="#dadaf5" stroke-width="0.45"/>
<path d="M119.1 331.0Q128.3 349.3 141.5 365.0" stroke="#dadaf5" stroke-width="0.45"/>
<path d="M193.5 305.7Q140.8 338.2 86.2 367.5" stroke="#dadaf5" stroke-width="0.45"/>
<path d="M193.5 305.7Q166.6 344.6 131.6 376.5" stroke="#dadaf5" stroke-width="0.45"/>
<path d="M193.5 305.7Q166.5 350.6 130.3 388.4" stroke="#dadaf5" stroke-width="0.45"/>
<path d="M86.2 367.5Q71.2 336.7 58.2 305.0" stroke="#dadaf5" stroke-width="0.45"/>
<path d="M86.2 367.5Q57.1 344.0 25.8 323.5" stroke="#dadaf5" stroke-width="0.45"/>
<path d="M86.2 367.5Q66.9 345.6 47.7 323.5" stroke="#dadaf5" stroke-width="0.45"/>
<path d="M86.2 367.5Q92.9 357.4 97.8 346.3" stroke="#dadaf5" stroke-width="0.45"/>
<path d="M86.2 367.5Q120.6 355.9 152.2 338.0" stroke="#dadaf5" stroke-width="0.45"/>
<path d="M86.2 367.5Q120.1 362.1 152.5 351.0" stroke="#dadaf5" stroke-width="0.45"/>
<path d="M86.2 367.5Q101.2 365.2 116.1 361.8" stroke="#dadaf5" stroke-width="0.45"/>
<path d="M86.2 367.5Q114.0 369.1 141.5 365.0" stroke="#dadaf5" stroke-width="0.45"/>
<path d="M86.2 367.5Q99.4 371.7 113.0 374.5" stroke="#dadaf5" stroke-width="0.45"/>
<path d="M86.2 367.5Q109.3 375.8 130.3 388.4" stroke="#dadaf5" stroke-width="0.45"/>
<path d="M86.2 367.5Q117.4 392.2 146.3 419.5" stroke="#dadaf5" stroke-width="0.45"/>
<path d="M86.2 367.5Q103.7 387.5 118.5 409.5" stroke="#dadaf5" stroke-width="0.45"/>
<path d="M171.4 401.8Q141.8 369.0 119.1 331.0" stroke="#dadaf5" stroke-width="0.45"/>
<path d="M171.4 401.8Q155.3 369.5 133.1 341.0" stroke="#dadaf5" stroke-width="0.45"/>
<path d="M171.4 401.8Q161.8 369.9 152.2 338.0" stroke="#dadaf5" stroke-width="0.45"/>
<path d="M171.4 401.8Q160.2 390.4 150.8 377.5" stroke="#dadaf5" stroke-width="0.45"/>
<path d="M171.4 401.8Q160.2 397.0 148.4 394.2" stroke="#dadaf5" stroke-width="0.45"/>
<path d="M235.9 373.1Q193.9 363.3 152.5 351.0" stroke="#dadaf5" stroke-width="0.45"/>
<path d="M235.9 373.1Q174.5 377.7 113.0 374.5" stroke="#dadaf5" stroke-width="0.45"/>
<path d="M106.6 453.3Q105.0 399.6 97.8 346.3" stroke="#dadaf5" stroke-width="0.45"/>
<path d="M106.6 453.3Q107.7 407.2 116.1 361.8" stroke="#dadaf5" stroke-width="0.45"/>
<path d="M106.6 453.3Q123.2 416.2 131.6 376.5" stroke="#dadaf5" stroke-width="0.45"/>
<path d="M106.6 453.3Q121.9 422.1 130.3 388.4" stroke="#dadaf5" stroke-width="0.45"/>
<path d="M106.6 453.3Q92.5 430.1 83.5 404.4" stroke="#dadaf5" stroke-width="0.45"/>
<path d="M106.6 453.3Q74.8 442.9 42.7 433.3" stroke="#dadaf5" stroke-width="0.45"/>
<path d="M106.6 453.3Q110.1 430.7 118.5 409.5" stroke="#dadaf5" stroke-width="0.45"/>
<path d="M36.9 305.0Q74.4 330.6 116.2 348.2" stroke="#c2c2ec" stroke-width="0.50"/>
<path d="M36.9 305.0Q86.3 338.0 131.6 376.5" stroke="#c2c2ec" stroke-width="0.50"/>
<path d="M36.9 305.0Q71.5 379.3 106.6 453.3" stroke="#c2c2ec" stroke-width="0.50"/>
<path d="M119.1 331.0Q78.7 315.6 36.9 305.0" stroke="#c2c2ec" stroke-width="0.50"/>
<path d="M119.1 331.0Q138.1 348.4 159.2 363.2" stroke="#c2c2ec" stroke-width="0.50"/>
<path d="M119.1 331.0Q102.7 349.3 86.2 367.5" stroke="#c2c2ec" stroke-width="0.50"/>
<path d="M119.1 331.0Q127.5 353.2 131.6 376.5" stroke="#c2c2ec" stroke-width="0.50"/>
<path d="M119.1 331.0Q135.1 362.0 148.4 394.2" stroke="#c2c2ec" stroke-width="0.50"/>
<path d="M119.1 331.0Q120.1 392.9 106.6 453.3" stroke="#c2c2ec" stroke-width="0.50"/>
<path d="M193.5 305.7Q169.6 337.2 141.5 365.0" stroke="#c2c2ec" stroke-width="0.50"/>
<path d="M193.5 305.7Q151.2 337.7 113.0 374.5" stroke="#c2c2ec" stroke-width="0.50"/>
<path d="M193.5 305.7Q171.4 341.1 150.8 377.5" stroke="#c2c2ec" stroke-width="0.50"/>
<path d="M86.2 367.5Q109.5 353.9 133.1 341.0" stroke="#c2c2ec" stroke-width="0.50"/>
<path d="M86.2 367.5Q110.6 362.2 134.5 355.2" stroke="#c2c2ec" stroke-width="0.50"/>
<path d="M86.2 367.5Q108.9 371.8 131.6 376.5" stroke="#c2c2ec" stroke-width="0.50"/>
<path d="M171.4 401.8Q152.2 379.1 134.5 355.2" stroke="#c2c2ec" stroke-width="0.50"/>
<path d="M171.4 401.8Q143.2 382.5 116.1 361.8" stroke="#c2c2ec" stroke-width="0.50"/>
<path d="M171.4 401.8Q164.7 382.7 159.2 363.2" stroke="#c2c2ec" stroke-width="0.50"/>
<path d="M171.4 401.8Q128.3 385.9 86.2 367.5" stroke="#c2c2ec" stroke-width="0.50"/>
<path d="M235.9 373.1Q166.7 360.7 97.8 346.3" stroke="#c2c2ec" stroke-width="0.50"/>
<path d="M235.9 373.1Q195.3 352.5 152.2 338.0" stroke="#c2c2ec" stroke-width="0.50"/>
<path d="M106.6 453.3Q125.4 398.5 133.1 341.0" stroke="#c2c2ec" stroke-width="0.50"/>
<path d="M106.6 453.3Q128.2 410.8 141.5 365.0" stroke="#c2c2ec" stroke-width="0.50"/>
<path d="M36.9 305.0Q54.8 341.5 86.2 367.5" stroke="#d2b8da" stroke-width="0.50"/>
<path d="M119.1 331.0Q140.2 350.6 150.8 377.5" stroke="#d2b8da" stroke-width="0.50"/>
<path d="M119.1 331.0Q131.8 358.3 130.3 388.4" stroke="#d2b8da" stroke-width="0.50"/>
<path d="M119.1 331.0Q179.9 345.5 235.9 373.1" stroke="#d2b8da" stroke-width="0.50"/>
<path d="M193.5 305.7Q158.0 323.3 134.5 355.2" stroke="#d2b8da" stroke-width="0.50"/>
<path d="M193.5 305.7Q166.6 389.3 106.6 453.3" stroke="#d2b8da" stroke-width="0.50"/>
<path d="M86.2 367.5Q120.6 373.1 148.4 394.2" stroke="#d2b8da" stroke-width="0.50"/>
<path d="M171.4 401.8Q193.7 356.3 193.5 305.7" stroke="#d2b8da" stroke-width="0.50"/>
<path d="M171.4 401.8Q201.2 381.9 235.9 373.1" stroke="#d2b8da" stroke-width="0.50"/>
<path d="M235.9 373.1Q141.6 324.0 36.9 305.0" stroke="#d2b8da" stroke-width="0.50"/>
<path d="M235.9 373.1Q160.6 383.5 86.2 367.5" stroke="#d2b8da" stroke-width="0.50"/>
<path d="M235.9 373.1Q183.5 368.4 131.6 376.5" stroke="#d2b8da" stroke-width="0.50"/>
<path d="M36.9 305.0Q71.8 319.0 97.8 346.3" stroke="#dea4ae" stroke-width="0.55"/>
<path d="M119.1 331.0Q131.8 315.9 149.6 307.3" stroke="#dea4ae" stroke-width="0.55"/>
<path d="M119.1 331.0Q154.1 312.0 193.5 305.7" stroke="#dea4ae" stroke-width="0.55"/>
<path d="M193.5 305.7Q219.5 336.4 235.9 373.1" stroke="#dea4ae" stroke-width="0.55"/>
<path d="M171.4 401.8Q110.9 344.0 36.9 305.0" stroke="#dea4ae" stroke-width="0.55"/>
<path d="M171.4 401.8Q142.7 432.2 106.6 453.3" stroke="#dea4ae" stroke-width="0.55"/>
<path d="M235.9 373.1Q213.7 388.1 197.0 409.0" stroke="#dea4ae" stroke-width="0.55"/>
<path d="M235.9 373.1Q176.9 422.4 106.6 453.3" stroke="#dea4ae" stroke-width="0.55"/>
<path d="M106.6 453.3Q89.9 411.9 86.2 367.5" stroke="#dea4ae" stroke-width="0.55"/>
<path d="M106.6 453.3Q128.4 438.7 146.3 419.5" stroke="#dea4ae" stroke-width="0.55"/></g>
<g id="edgesD" fill="none"><path d="M415.5 268.3Q419.4 258.4 422.3 248.2" stroke="#ebebfa" stroke-width="0.45"/>
<path d="M415.5 268.3Q406.9 262.2 398.5 255.9" stroke="#ebebfa" stroke-width="0.45"/>
<path d="M415.5 268.3Q426.4 269.6 437.2 268.3" stroke="#ebebfa" stroke-width="0.45"/>
<path d="M415.5 268.3Q447.2 279.5 478.3 292.1" stroke="#ebebfa" stroke-width="0.45"/>
<path d="M415.5 268.3Q408.7 286.3 405.5 305.2" stroke="#ebebfa" stroke-width="0.45"/>
<path d="M415.5 268.3Q430.0 305.1 437.1 344.0" stroke="#ebebfa" stroke-width="0.45"/>
<path d="M415.5 268.3Q378.5 290.3 339.5 308.4" stroke="#ebebfa" stroke-width="0.45"/>
<path d="M415.5 268.3Q388.3 302.7 357.4 334.0" stroke="#ebebfa" stroke-width="0.45"/>
<path d="M415.5 268.3Q389.6 312.1 366.0 357.2" stroke="#ebebfa" stroke-width="0.45"/>
<path d="M415.5 268.3Q398.1 328.8 372.8 386.4" stroke="#ebebfa" stroke-width="0.45"/>
<path d="M493.8 385.6Q488.0 338.5 478.3 292.1" stroke="#ebebfa" stroke-width="0.45"/>
<path d="M493.8 385.6Q465.0 365.4 437.1 344.0" stroke="#ebebfa" stroke-width="0.45"/>
<path d="M493.8 385.6Q494.1 366.5 493.4 347.4" stroke="#ebebfa" stroke-width="0.45"/>
<path d="M493.8 385.6Q491.1 375.6 488.8 365.5" stroke="#ebebfa" stroke-width="0.45"/>
<path d="M493.8 385.6Q500.8 377.8 506.7 369.3" stroke="#ebebfa" stroke-width="0.45"/>
<path d="M493.8 385.6Q483.4 381.8 473.7 376.4" stroke="#ebebfa" stroke-width="0.45"/>
<path d="M493.8 385.6Q459.4 377.1 424.2 372.6" stroke="#ebebfa" stroke-width="0.45"/>
<path d="M493.8 385.6Q504.1 385.7 514.5 385.6" stroke="#ebebfa" stroke-width="0.45"/>
<path d="M493.8 385.6Q512.6 386.2 531.5 385.6" stroke="#ebebfa" stroke-width="0.45"/>
<path d="M493.8 385.6Q499.4 394.5 506.7 402.0" stroke="#ebebfa" stroke-width="0.45"/>
<path d="M493.8 385.6Q491.1 395.6 488.8 405.7" stroke="#ebebfa" stroke-width="0.45"/>
<path d="M493.8 385.6Q463.3 412.9 429.5 436.0" stroke="#ebebfa" stroke-width="0.45"/>
<path d="M493.8 385.6Q435.2 358.1 376.7 330.6" stroke="#ebebfa" stroke-width="0.45"/>
<path d="M493.8 385.6Q408.3 361.9 322.5 339.1" stroke="#ebebfa" stroke-width="0.45"/>
<path d="M493.8 385.6Q437.5 358.6 376.9 343.5" stroke="#ebebfa" stroke-width="0.45"/>
<path d="M493.8 385.6Q439.4 368.1 383.7 355.1" stroke="#ebebfa" stroke-width="0.45"/>
<path d="M395.2 393.5Q424.0 364.1 451.7 333.7" stroke="#ebebfa" stroke-width="0.45"/>
<path d="M395.2 393.5Q441.4 404.5 488.8 405.7" stroke="#ebebfa" stroke-width="0.45"/>
<path d="M395.2 393.5Q431.8 399.7 466.6 412.5" stroke="#ebebfa" stroke-width="0.45"/>
<path d="M395.2 393.5Q411.0 415.8 429.5 436.0" stroke="#ebebfa" stroke-width="0.45"/>
<path d="M395.2 393.5Q378.2 369.9 359.5 347.7" stroke="#ebebfa" stroke-width="0.45"/>
<path d="M395.2 393.5Q350.9 382.3 305.2 379.8" stroke="#ebebfa" stroke-width="0.45"/>
<path d="M395.2 393.5Q365.9 388.7 336.2 389.3" stroke="#ebebfa" stroke-width="0.45"/>
<path d="M395.2 393.5Q351.9 394.3 308.7 396.9" stroke="#ebebfa" stroke-width="0.45"/>
<path d="M395.2 393.5Q382.6 401.8 370.9 411.2" stroke="#ebebfa" stroke-width="0.45"/>
<path d="M395.2 393.5Q370.1 407.2 348.8 426.2" stroke="#ebebfa" stroke-width="0.45"/>
<path d="M395.2 393.5Q359.2 412.1 325.0 433.8" stroke="#ebebfa" stroke-width="0.45"/>
<path d="M395.2 393.5Q382.5 421.6 363.9 446.3" stroke="#ebebfa" stroke-width="0.45"/>
<path d="M278.5 323.4Q308.7 314.6 339.5 308.4" stroke="#ebebfa" stroke-width="0.45"/>
<path d="M278.5 323.4Q305.2 358.3 336.2 389.3" stroke="#ebebfa" stroke-width="0.45"/>
<path d="M278.5 323.4Q284.4 369.1 286.9 415.2" stroke="#ebebfa" stroke-width="0.45"/>
<path d="M343.4 323.6Q384.6 309.9 422.3 288.4" stroke="#ebebfa" stroke-width="0.45"/>
<path d="M343.4 323.6Q374.3 313.8 405.5 305.2" stroke="#ebebfa" stroke-width="0.45"/>
<path d="M343.4 323.6Q382.4 350.5 424.2 372.6" stroke="#ebebfa" stroke-width="0.45"/>
<path d="M343.4 323.6Q329.8 312.4 314.0 304.7" stroke="#ebebfa" stroke-width="0.45"/>
<path d="M343.4 323.6Q341.7 315.9 339.5 308.4" stroke="#ebebfa" stroke-width="0.45"/>
<path d="M343.4 323.6Q342.3 345.5 338.2 367.0" stroke="#ebebfa" stroke-width="0.45"/>
<path d="M343.4 323.6Q349.7 346.2 356.3 368.7" stroke="#ebebfa" stroke-width="0.45"/>
<path d="M343.4 323.6Q341.0 356.6 336.2 389.3" stroke="#ebebfa" stroke-width="0.45"/>
<path d="M343.4 323.6Q339.1 362.5 343.1 401.4" stroke="#ebebfa" stroke-width="0.45"/>
<path d="M311.4 359.8Q312.3 332.2 314.0 304.7" stroke="#ebebfa" stroke-width="0.45"/>
<path d="M311.4 359.8Q334.0 363.4 356.3 368.7" stroke="#ebebfa" stroke-width="0.45"/>
<path d="M311.4 359.8Q308.3 369.8 305.2 379.8" stroke="#ebebfa" stroke-width="0.45"/>
<path d="M311.4 359.8Q323.1 375.1 336.2 389.3" stroke="#ebebfa" stroke-width="0.45"/>
<path d="M311.4 359.8Q325.6 381.9 343.1 401.4" stroke="#ebebfa" stroke-width="0.45"/>
<path d="M311.4 359.8Q340.4 386.4 370.9 411.2" stroke="#ebebfa" stroke-width="0.45"/>
<path d="M311.4 359.8Q330.0 393.0 348.8 426.2" stroke="#ebebfa" stroke-width="0.45"/>
<path d="M311.4 359.8Q316.6 397.1 325.0 433.8" stroke="#ebebfa" stroke-width="0.45"/>
<path d="M342.6 446.3Q385.7 438.1 429.5 436.0" stroke="#ebebfa" stroke-width="0.45"/>
<path d="M342.6 446.3Q340.6 417.7 336.2 389.3" stroke="#ebebfa" stroke-width="0.45"/>
<path d="M342.6 446.3Q316.0 428.4 286.9 415.2" stroke="#ebebfa" stroke-width="0.45"/>
<path d="M342.6 446.3Q334.2 439.5 325.0 433.8" stroke="#ebebfa" stroke-width="0.45"/>
<path d="M342.6 446.3Q353.2 446.3 363.9 446.3" stroke="#ebebfa" stroke-width="0.45"/>
<path d="M342.6 446.3Q334.3 453.3 325.0 458.9" stroke="#ebebfa" stroke-width="0.45"/>
<path d="M342.6 446.3Q344.6 456.8 348.8 466.6" stroke="#ebebfa" stroke-width="0.45"/>
<path d="M415.5 268.3Q393.3 304.4 376.9 343.5" stroke="#dadaf5" stroke-width="0.45"/>
<path d="M415.5 268.3Q377.6 310.8 341.0 354.3" stroke="#dadaf5" stroke-width="0.45"/>
<path d="M415.5 268.3Q367.0 318.1 311.4 359.8" stroke="#dadaf5" stroke-width="0.45"/>
<path d="M493.8 385.6Q506.1 371.1 520.6 358.7" stroke="#dadaf5" stroke-width="0.45"/>
<path d="M493.8 385.6Q492.3 404.1 493.4 422.7" stroke="#dadaf5" stroke-width="0.45"/>
<path d="M493.8 385.6Q426.8 357.4 363.8 321.0" stroke="#dadaf5" stroke-width="0.45"/>
<path d="M493.8 385.6Q424.1 363.7 357.4 334.0" stroke="#dadaf5" stroke-width="0.45"/>
<path d="M493.8 385.6Q428.8 359.2 359.5 347.7" stroke="#dadaf5" stroke-width="0.45"/>
<path d="M493.8 385.6Q416.2 376.0 341.0 354.3" stroke="#dadaf5" stroke-width="0.45"/>
<path d="M493.8 385.6Q415.7 379.2 338.2 367.0" stroke="#dadaf5" stroke-width="0.45"/>
<path d="M493.8 385.6Q424.2 383.9 356.3 368.7" stroke="#dadaf5" stroke-width="0.45"/>
<path d="M493.8 385.6Q425.1 380.8 356.3 380.6" stroke="#dadaf5" stroke-width="0.45"/>
<path d="M493.8 385.6Q433.3 391.3 372.8 386.4" stroke="#dadaf5" stroke-width="0.45"/>
<path d="M395.2 393.5Q410.2 383.7 424.2 372.6" stroke="#dadaf5" stroke-width="0.45"/>
<path d="M395.2 393.5Q369.2 358.6 343.4 323.6" stroke="#dadaf5" stroke-width="0.45"/>
<path d="M395.2 393.5Q376.2 363.8 357.4 334.0" stroke="#dadaf5" stroke-width="0.45"/>
<path d="M395.2 393.5Q360.2 364.5 322.5 339.1" stroke="#dadaf5" stroke-width="0.45"/>
<path d="M395.2 393.5Q383.1 369.6 376.9 343.5" stroke="#dadaf5" stroke-width="0.45"/>
<path d="M395.2 393.5Q369.0 372.7 341.0 354.3" stroke="#dadaf5" stroke-width="0.45"/>
<path d="M395.2 393.5Q384.1 382.4 375.2 369.5" stroke="#dadaf5" stroke-width="0.45"/>
<path d="M395.2 393.5Q376.0 386.4 356.3 380.6" stroke="#dadaf5" stroke-width="0.45"/>
<path d="M395.2 393.5Q384.2 389.4 372.8 386.4" stroke="#dadaf5" stroke-width="0.45"/>
<path d="M278.5 323.4Q318.4 325.2 357.4 334.0" stroke="#dadaf5" stroke-width="0.45"/>
<path d="M278.5 323.4Q327.2 335.9 376.9 343.5" stroke="#dadaf5" stroke-width="0.45"/>
<path d="M278.5 323.4Q318.7 336.4 359.5 347.7" stroke="#dadaf5" stroke-width="0.45"/>
<path d="M278.5 323.4Q323.3 337.6 366.0 357.2" stroke="#dadaf5" stroke-width="0.45"/>
<path d="M278.5 323.4Q316.7 347.3 356.3 368.7" stroke="#dadaf5" stroke-width="0.45"/>
<path d="M278.5 323.4Q329.0 342.0 375.2 369.5" stroke="#dadaf5" stroke-width="0.45"/>
<path d="M278.5 323.4Q294.3 359.9 308.7 396.9" stroke="#dadaf5" stroke-width="0.45"/>
<path d="M343.4 323.6Q374.5 292.7 398.5 255.9" stroke="#dadaf5" stroke-width="0.45"/>
<path d="M343.4 323.6Q371.8 303.6 398.5 281.3" stroke="#dadaf5" stroke-width="0.45"/>
<path d="M343.4 323.6Q353.5 321.5 363.8 321.0" stroke="#dadaf5" stroke-width="0.45"/>
<path d="M343.4 323.6Q349.8 329.6 357.4 334.0" stroke="#dadaf5" stroke-width="0.45"/>
<path d="M343.4 323.6Q359.8 328.5 376.7 330.6" stroke="#dadaf5" stroke-width="0.45"/>
<path d="M343.4 323.6Q333.1 331.6 322.5 339.1" stroke="#dadaf5" stroke-width="0.45"/>
<path d="M343.4 323.6Q342.9 332.5 341.2 341.2" stroke="#dadaf5" stroke-width="0.45"/>
<path d="M343.4 323.6Q359.7 334.3 376.9 343.5" stroke="#dadaf5" stroke-width="0.45"/>
<path d="M343.4 323.6Q352.9 334.7 359.5 347.7" stroke="#dadaf5" stroke-width="0.45"/>
<path d="M343.4 323.6Q342.2 339.0 341.0 354.3" stroke="#dadaf5" stroke-width="0.45"/>
<path d="M343.4 323.6Q327.4 353.8 305.2 379.8" stroke="#dadaf5" stroke-width="0.45"/>
<path d="M343.4 323.6Q347.1 352.7 356.3 380.6" stroke="#dadaf5" stroke-width="0.45"/>
<path d="M311.4 359.8Q316.5 349.2 322.5 339.1" stroke="#dadaf5" stroke-width="0.45"/>
<path d="M311.4 359.8Q325.9 355.7 341.0 354.3" stroke="#dadaf5" stroke-width="0.45"/>
<path d="M311.4 359.8Q338.6 357.2 366.0 357.2" stroke="#dadaf5" stroke-width="0.45"/>
<path d="M311.4 359.8Q324.4 364.9 338.2 367.0" stroke="#dadaf5" stroke-width="0.45"/>
<path d="M311.4 359.8Q334.7 368.4 356.3 380.6" stroke="#dadaf5" stroke-width="0.45"/>
<path d="M311.4 359.8Q310.3 378.4 308.7 396.9" stroke="#dadaf5" stroke-width="0.45"/>
<path d="M311.4 359.8Q298.7 387.3 286.9 415.2" stroke="#dadaf5" stroke-width="0.45"/>
<path d="M342.6 446.3Q348.6 396.6 359.5 347.7" stroke="#dadaf5" stroke-width="0.45"/>
<path d="M342.6 446.3Q354.9 401.9 366.0 357.2" stroke="#dadaf5" stroke-width="0.45"/>
<path d="M342.6 446.3Q354.7 406.1 375.2 369.5" stroke="#dadaf5" stroke-width="0.45"/>
<path d="M342.6 446.3Q323.6 413.2 305.2 379.8" stroke="#dadaf5" stroke-width="0.45"/>
<path d="M342.6 446.3Q353.2 414.2 356.3 380.6" stroke="#dadaf5" stroke-width="0.45"/>
<path d="M415.5 268.3Q389.7 294.7 363.8 321.0" stroke="#c2c2ec" stroke-width="0.50"/>
<path d="M415.5 268.3Q373.9 315.4 338.2 367.0" stroke="#c2c2ec" stroke-width="0.50"/>
<path d="M415.5 268.3Q388.2 325.6 356.3 380.6" stroke="#c2c2ec" stroke-width="0.50"/>
<path d="M395.2 393.5Q381.6 356.3 363.8 321.0" stroke="#c2c2ec" stroke-width="0.50"/>
<path d="M395.2 393.5Q384.2 362.6 376.7 330.6" stroke="#c2c2ec" stroke-width="0.50"/>
<path d="M395.2 393.5Q381.2 374.8 366.0 357.2" stroke="#c2c2ec" stroke-width="0.50"/>
<path d="M395.2 393.5Q355.1 372.1 311.4 359.8" stroke="#c2c2ec" stroke-width="0.50"/>
<path d="M395.2 393.5Q366.7 380.3 338.2 367.0" stroke="#c2c2ec" stroke-width="0.50"/>
<path d="M395.2 393.5Q376.6 379.8 356.3 368.7" stroke="#c2c2ec" stroke-width="0.50"/>
<path d="M278.5 323.4Q310.2 331.0 341.2 341.2" stroke="#c2c2ec" stroke-width="0.50"/>
<path d="M278.5 323.4Q310.3 337.8 341.0 354.3" stroke="#c2c2ec" stroke-width="0.50"/>
<path d="M278.5 323.4Q310.5 342.3 338.2 367.0" stroke="#c2c2ec" stroke-width="0.50"/>
<path d="M278.5 323.4Q318.9 350.0 356.3 380.6" stroke="#c2c2ec" stroke-width="0.50"/>
<path d="M278.5 323.4Q308.9 385.7 342.6 446.3" stroke="#c2c2ec" stroke-width="0.50"/>
<path d="M343.4 323.6Q311.0 321.7 278.5 323.4" stroke="#c2c2ec" stroke-width="0.50"/>
<path d="M343.4 323.6Q353.9 340.9 366.0 357.2" stroke="#c2c2ec" stroke-width="0.50"/>
<path d="M343.4 323.6Q326.7 341.1 311.4 359.8" stroke="#c2c2ec" stroke-width="0.50"/>
<path d="M343.4 323.6Q349.2 385.0 342.6 446.3" stroke="#c2c2ec" stroke-width="0.50"/>
<path d="M311.4 359.8Q344.9 347.1 376.7 330.6" stroke="#c2c2ec" stroke-width="0.50"/>
<path d="M342.6 446.3Q343.6 389.3 357.4 334.0" stroke="#c2c2ec" stroke-width="0.50"/>
<path d="M342.6 446.3Q358.2 388.0 376.7 330.6" stroke="#c2c2ec" stroke-width="0.50"/>
<path d="M342.6 446.3Q337.4 393.8 341.2 341.2" stroke="#c2c2ec" stroke-width="0.50"/>
<path d="M415.5 268.3Q382.4 304.4 359.5 347.7" stroke="#d2b8da" stroke-width="0.50"/>
<path d="M415.5 268.3Q389.4 361.5 342.6 446.3" stroke="#d2b8da" stroke-width="0.50"/>
<path d="M493.8 385.6Q393.0 330.9 278.5 323.4" stroke="#d2b8da" stroke-width="0.50"/>
<path d="M493.8 385.6Q404.7 358.0 311.4 359.8" stroke="#d2b8da" stroke-width="0.50"/>
<path d="M395.2 393.5Q414.8 332.4 415.5 268.3" stroke="#d2b8da" stroke-width="0.50"/>
<path d="M395.2 393.5Q445.0 395.6 493.8 385.6" stroke="#d2b8da" stroke-width="0.50"/>
<path d="M278.5 323.4Q290.7 345.5 311.4 359.8" stroke="#d2b8da" stroke-width="0.50"/>
<path d="M343.4 323.6Q414.3 365.0 493.8 385.6" stroke="#d2b8da" stroke-width="0.50"/>
<path d="M311.4 359.8Q334.7 350.9 359.5 347.7" stroke="#d2b8da" stroke-width="0.50"/>
<path d="M342.6 446.3Q372.3 399.1 376.9 343.5" stroke="#d2b8da" stroke-width="0.50"/>
<path d="M342.6 446.3Q333.6 400.4 341.0 354.3" stroke="#d2b8da" stroke-width="0.50"/>
<path d="M342.6 446.3Q357.9 409.0 356.3 368.7" stroke="#d2b8da" stroke-width="0.50"/>
<path d="M415.5 268.3Q405.7 273.1 398.5 281.3" stroke="#dea4ae" stroke-width="0.55"/>
<path d="M415.5 268.3Q420.1 277.9 422.3 288.4" stroke="#dea4ae" stroke-width="0.55"/>
<path d="M415.5 268.3Q437.7 298.7 451.7 333.7" stroke="#dea4ae" stroke-width="0.55"/>
<path d="M415.5 268.3Q431.9 318.7 466.6 358.7" stroke="#dea4ae" stroke-width="0.55"/>
<path d="M415.5 268.3Q438.4 325.7 473.7 376.4" stroke="#dea4ae" stroke-width="0.55"/>
<path d="M415.5 268.3Q468.5 317.7 493.8 385.6" stroke="#dea4ae" stroke-width="0.55"/>
<path d="M493.8 385.6Q476.1 356.9 451.7 333.7" stroke="#dea4ae" stroke-width="0.55"/>
<path d="M493.8 385.6Q481.6 370.8 466.6 358.7" stroke="#dea4ae" stroke-width="0.55"/>
<path d="M493.8 385.6Q474.2 385.1 455.1 389.3" stroke="#dea4ae" stroke-width="0.55"/>
<path d="M493.8 385.6Q484.7 392.3 473.7 394.9" stroke="#dea4ae" stroke-width="0.55"/>
<path d="M493.8 385.6Q410.8 397.6 342.6 446.3" stroke="#dea4ae" stroke-width="0.55"/>
<path d="M395.2 393.5Q330.9 368.4 278.5 323.4" stroke="#dea4ae" stroke-width="0.55"/>
<path d="M395.2 393.5Q375.4 426.3 342.6 446.3" stroke="#dea4ae" stroke-width="0.55"/>
<path d="M278.5 323.4Q301.8 327.7 322.5 339.1" stroke="#dea4ae" stroke-width="0.55"/>
<path d="M343.4 323.6Q374.7 289.8 415.5 268.3" stroke="#dea4ae" stroke-width="0.55"/>
<path d="M342.6 446.3Q335.3 400.1 311.4 359.8" stroke="#dea4ae" stroke-width="0.55"/>
<path d="M342.6 446.3Q358.7 430.4 370.9 411.2" stroke="#dea4ae" stroke-width="0.55"/>
<path d="M342.6 446.3Q347.5 436.8 348.8 426.2" stroke="#dea4ae" stroke-width="0.55"/></g>
<g id="nodesA"><ellipse cx="59.8" cy="42.8" rx="8.5" ry="5.6" fill="#f7951d"/>
<text x="59.8" y="44.1" class="k">RNF180</text>
<ellipse cx="80.8" cy="42.8" rx="8.5" ry="5.6" fill="#f7951d"/>
<text x="80.8" y="44.1" class="k">RNF181</text>
<ellipse cx="49.2" cy="60.9" rx="8.5" ry="5.6" fill="#f7951d"/>
<text x="49.2" y="62.2" class="k">USP54</text>
<polygon points="79.7,60.9 75.1,69.0 65.8,69.0 61.1,60.9 65.8,52.8 75.1,52.8" fill="#0a0acd"/>
<text x="70.4" y="62.2" class="w">KIF20A</text>
<ellipse cx="91.0" cy="60.9" rx="8.5" ry="5.6" fill="#f7951d"/>
<text x="91.0" y="62.2" class="k">USP4</text>
<ellipse cx="59.8" cy="79.3" rx="8.5" ry="5.6" fill="#f7951d"/>
<text x="59.8" y="80.6" class="k">HECTD4</text>
<ellipse cx="80.8" cy="79.3" rx="8.5" ry="5.6" fill="#f7951d"/>
<text x="80.8" y="80.6" class="k">HERC3</text>
<ellipse cx="138.5" cy="33.9" rx="8.5" ry="5.6" fill="#f7951d"/>
<text x="138.5" y="35.2" class="k">BTBD2</text>
<ellipse cx="162.1" cy="43.9" rx="8.5" ry="5.6" fill="#f7951d"/>
<text x="162.1" y="45.2" class="k">FBXO3</text>
<ellipse cx="132.8" cy="54.0" rx="8.5" ry="5.6" fill="#f7951d"/>
<text x="132.8" y="55.4" class="k">UCHL1</text>
<ellipse cx="121.0" cy="67.0" rx="8.5" ry="5.6" fill="#1ec81e"/>
<text x="121.0" y="68.3" class="k">RBBP6</text>
<ellipse cx="145.8" cy="71.5" rx="8.5" ry="5.6" fill="#1ec81e"/>
<text x="145.8" y="72.8" class="k">USP39</text>
<polygon points="159.4,86.0 154.8,94.1 145.4,94.1 140.8,86.0 145.4,77.9 154.8,77.9" fill="#0a0acd"/>
<text x="150.1" y="87.3" class="w">AURKB</text>
<ellipse cx="170.2" cy="83.5" rx="8.5" ry="5.6" fill="#f7951d"/>
<text x="170.2" y="84.8" class="k">HERC1</text>
<ellipse cx="180.2" cy="63.5" rx="8.5" ry="5.6" fill="#f7951d"/>
<text x="180.2" y="64.8" class="k">TRIM7</text>
<ellipse cx="186.0" cy="75.3" rx="8.5" ry="5.6" fill="#f7951d"/>
<text x="186.0" y="76.6" class="k">RFWD3</text>
<ellipse cx="182.2" cy="92.8" rx="8.5" ry="5.6" fill="#1ec81e"/>
<text x="182.2" y="94.1" class="k">TRIM27</text>
<ellipse cx="163.9" cy="95.8" rx="8.5" ry="5.6" fill="#1ec81e"/>
<text x="163.9" y="97.1" class="k">PRPF19</text>
<ellipse cx="183.0" cy="105.2" rx="8.5" ry="5.6" fill="#1ec81e"/>
<text x="183.0" y="106.5" class="k">TRIM28</text>
<ellipse cx="165.7" cy="109.6" rx="8.5" ry="5.6" fill="#1ec81e"/>
<text x="165.7" y="110.9" class="k">TRIM4</text>
<ellipse cx="148.1" cy="103.0" rx="8.5" ry="5.6" fill="#f7951d"/>
<text x="148.1" y="104.3" class="k">CUL1</text>
<ellipse cx="129.5" cy="101.4" rx="8.5" ry="5.6" fill="#f7951d"/>
<text x="129.5" y="102.8" class="k">FAF2</text>
<ellipse cx="117.4" cy="88.3" rx="8.5" ry="5.6" fill="#f7951d"/>
<text x="117.4" y="89.6" class="k">CUL2</text>
<ellipse cx="148.6" cy="116.2" rx="8.5" ry="5.6" fill="#1ec81e"/>
<text x="148.6" y="117.5" class="k">VCP</text>
<ellipse cx="189.3" cy="117.4" rx="8.5" ry="5.6" fill="#f7951d"/>
<text x="189.3" y="118.8" class="k">PSMD1</text>
<ellipse cx="172.3" cy="118.9" rx="8.5" ry="5.6" fill="#1ec81e"/>
<text x="172.3" y="120.2" class="k">RNF213</text>
<ellipse cx="204.0" cy="19.6" rx="8.5" ry="5.6" fill="#f7951d"/>
<text x="204.0" y="21.0" class="k">TRIP12</text>
<ellipse cx="227.9" cy="11.8" rx="8.5" ry="5.6" fill="#f7951d"/>
<text x="227.9" y="13.2" class="k">UHRF2</text>
<polygon points="230.4,32.1 225.8,40.2 216.4,40.2 211.8,32.1 216.4,24.0 225.8,24.0" fill="#0a0acd"/>
<text x="221.1" y="33.5" class="w">CIT</text>
<ellipse cx="242.2" cy="32.1" rx="8.5" ry="5.6" fill="#1ec81e"/>
<text x="242.2" y="33.5" class="k">RNF40</text>
<ellipse cx="204.0" cy="44.7" rx="8.5" ry="5.6" fill="#f7951d"/>
<text x="204.0" y="46.1" class="k">UBR4</text>
<ellipse cx="227.9" cy="52.2" rx="8.5" ry="5.6" fill="#f7951d"/>
<text x="227.9" y="53.6" class="k">RING1</text>
<ellipse cx="211.6" cy="67.7" rx="8.5" ry="5.6" fill="#1ec81e"/>
<text x="211.6" y="69.0" class="k">USP10</text>
<polygon points="220.9,91.1 216.2,99.2 206.9,99.2 202.3,91.1 206.9,83.0 216.2,83.0" fill="#0a0acd"/>
<text x="211.6" y="92.4" class="w">ECT2</text>
<ellipse cx="242.2" cy="106.2" rx="8.5" ry="5.6" fill="#f7951d"/>
<text x="242.2" y="107.5" class="k">MYCBP2</text>
<ellipse cx="257.0" cy="95.4" rx="8.5" ry="5.6" fill="#f7951d"/>
<text x="257.0" y="96.8" class="k">USP9X</text>
<ellipse cx="65.5" cy="107.9" rx="8.5" ry="5.6" fill="#f7951d"/>
<text x="65.5" y="109.2" class="k">UCHL5</text>
<ellipse cx="42.1" cy="115.9" rx="8.5" ry="5.6" fill="#f7951d"/>
<text x="42.1" y="117.2" class="k">TRIM11</text>
<polygon points="127.3,121.5 122.7,129.6 113.3,129.6 108.7,121.5 113.3,113.4 122.7,113.4" fill="#0a0acd"/>
<text x="118.0" y="122.8" class="w">PRC1</text>
<polygon points="68.3,128.0 63.6,136.1 54.4,136.1 49.7,128.0 54.3,119.9 63.6,119.9" fill="#0a0acd"/>
<text x="59.0" y="129.3" class="w">CHMP4C</text>
<ellipse cx="80.3" cy="128.0" rx="8.5" ry="5.6" fill="#f7951d"/>
<text x="80.3" y="129.3" class="k">USP47</text>
<ellipse cx="42.1" cy="140.6" rx="8.5" ry="5.6" fill="#f7951d"/>
<text x="42.1" y="141.9" class="k">OTUB1</text>
<ellipse cx="65.5" cy="148.6" rx="8.5" ry="5.6" fill="#f7951d"/>
<text x="65.5" y="149.9" class="k">UBE2N</text>
<ellipse cx="112.1" cy="142.1" rx="8.5" ry="5.6" fill="#f7951d"/>
<text x="112.1" y="143.4" class="k">FBXO21</text>
<ellipse cx="115.7" cy="158.1" rx="8.5" ry="5.6" fill="#f7951d"/>
<text x="115.7" y="159.4" class="k">USP5</text>
<ellipse cx="89.1" cy="166.2" rx="8.5" ry="5.6" fill="#f7951d"/>
<text x="89.1" y="167.5" class="k">UBE4B</text>
<ellipse cx="71.2" cy="185.2" rx="8.5" ry="5.6" fill="#f7951d"/>
<text x="71.2" y="186.5" class="k">TRIM37</text>
<ellipse cx="95.8" cy="182.0" rx="8.5" ry="5.6" fill="#f7951d"/>
<text x="95.8" y="183.3" class="k">RNF2</text>
<ellipse cx="131.6" cy="194.6" rx="8.5" ry="5.6" fill="#f7951d"/>
<text x="131.6" y="195.9" class="k">OTUD4</text>
<ellipse cx="131.6" cy="219.0" rx="8.5" ry="5.6" fill="#f7951d"/>
<text x="131.6" y="220.3" class="k">ATG7</text>
<ellipse cx="145.1" cy="128.3" rx="8.5" ry="5.6" fill="#1ec81e"/>
<text x="145.1" y="129.7" class="k">UHRF1</text>
<ellipse cx="163.9" cy="130.9" rx="8.5" ry="5.6" fill="#1ec81e"/>
<text x="163.9" y="132.2" class="k">UBR5</text>
<ellipse cx="181.5" cy="131.4" rx="8.5" ry="5.6" fill="#f7951d"/>
<text x="181.5" y="132.8" class="k">USP9Y</text>
<polygon points="216.3,129.6 211.7,137.7 202.3,137.7 197.7,129.6 202.3,121.5 211.7,121.5" fill="#0a0acd"/>
<text x="207.0" y="130.9" class="w">CHMP4B</text>
<ellipse cx="229.6" cy="133.9" rx="8.5" ry="5.6" fill="#1ec81e"/>
<text x="229.6" y="135.2" class="k">CUL3</text>
<ellipse cx="163.4" cy="142.1" rx="8.5" ry="5.6" fill="#1ec81e"/>
<text x="163.4" y="143.4" class="k">EIF3F</text>
<ellipse cx="143.1" cy="150.2" rx="8.5" ry="5.6" fill="#1ec81e"/>
<text x="143.1" y="151.5" class="k">CUL4A</text>
<ellipse cx="179.5" cy="147.7" rx="8.5" ry="5.6" fill="#f7951d"/>
<text x="179.5" y="149.0" class="k">TRIM32</text>
<polygon points="210.1,155.2 205.5,163.3 196.2,163.3 191.5,155.2 196.2,147.1 205.5,147.1" fill="#0a0acd"/>
<text x="200.8" y="156.5" class="w">ANLN</text>
<ellipse cx="226.0" cy="162.0" rx="8.5" ry="5.6" fill="#f7951d"/>
<text x="226.0" y="163.3" class="k">TRIM26</text>
<ellipse cx="150.1" cy="162.2" rx="8.5" ry="5.6" fill="#f7951d"/>
<text x="150.1" y="163.5" class="k">TRIM5</text>
<ellipse cx="177.2" cy="172.3" rx="8.5" ry="5.6" fill="#1ec81e"/>
<text x="177.2" y="173.7" class="k">HUWE1</text>
<ellipse cx="155.1" cy="187.0" rx="8.5" ry="5.6" fill="#f7951d"/>
<text x="155.1" y="188.3" class="k">LONRF2</text>
<polygon points="158.2,207.0 153.6,215.1 144.2,215.1 139.6,207.0 144.2,198.9 153.6,198.9" fill="#0a0acd"/>
<text x="148.9" y="208.3" class="w">KIF23</text>
<ellipse cx="169.7" cy="206.6" rx="8.5" ry="5.6" fill="#1ec81e"/>
<text x="169.7" y="207.9" class="k">USP7</text>
<ellipse cx="234.2" cy="196.2" rx="8.5" ry="5.6" fill="#f7951d"/>
<text x="234.2" y="197.5" class="k">UBE2O</text>
<ellipse cx="236.3" cy="214.8" rx="8.5" ry="5.6" fill="#f7951d"/>
<text x="236.3" y="216.2" class="k">TRIM56</text>
<ellipse cx="155.1" cy="227.0" rx="8.5" ry="5.6" fill="#f7951d"/>
<text x="155.1" y="228.3" class="k">MKRN3</text>
<ellipse cx="268.5" cy="213.5" rx="8.5" ry="5.6" fill="#f7951d"/>
<text x="268.5" y="214.8" class="k">RNF123</text>
<ellipse cx="282.6" cy="55.2" rx="8.5" ry="5.6" fill="#f7951d"/>
<text x="282.6" y="56.6" class="k">UBA1</text>
<ellipse cx="298.0" cy="109.3" rx="8.5" ry="5.6" fill="#f7951d"/>
<text x="298.0" y="110.6" class="k">NEDD4L</text>
<ellipse cx="271.3" cy="120.6" rx="8.5" ry="5.6" fill="#f7951d"/>
<text x="271.3" y="121.9" class="k">TRIM41</text>
<ellipse cx="324.8" cy="120.6" rx="8.5" ry="5.6" fill="#f7951d"/>
<text x="324.8" y="121.9" class="k">USP36</text>
<ellipse cx="293.2" cy="126.9" rx="8.5" ry="5.6" fill="#f7951d"/>
<text x="293.2" y="128.2" class="k">AUP1</text>
<ellipse cx="311.0" cy="130.1" rx="8.5" ry="5.6" fill="#f7951d"/>
<text x="311.0" y="131.4" class="k">PSMD4</text>
<ellipse cx="278.3" cy="137.7" rx="8.5" ry="5.6" fill="#f7951d"/>
<text x="278.3" y="139.0" class="k">TRIM68</text>
<polygon points="307.0,147.0 302.3,155.1 293.1,155.1 288.4,147.0 293.1,138.9 302.3,138.9" fill="#0a0acd"/>
<text x="297.7" y="148.3" class="w">KIF14</text>
<ellipse cx="318.2" cy="147.0" rx="8.5" ry="5.6" fill="#f7951d"/>
<text x="318.2" y="148.3" class="k">CDC23</text>
<ellipse cx="335.3" cy="147.0" rx="8.5" ry="5.6" fill="#f7951d"/>
<text x="335.3" y="148.3" class="k">FZR1</text>
<ellipse cx="260.0" cy="151.0" rx="8.5" ry="5.6" fill="#f7951d"/>
<text x="260.0" y="152.3" class="k">PPIL2</text>
<ellipse cx="278.3" cy="156.5" rx="8.5" ry="5.6" fill="#f7951d"/>
<text x="278.3" y="157.8" class="k">TRIM39</text>
<ellipse cx="311.0" cy="163.5" rx="8.5" ry="5.6" fill="#f7951d"/>
<text x="311.0" y="164.8" class="k">UBA6</text>
<ellipse cx="293.2" cy="167.3" rx="8.5" ry="5.6" fill="#f7951d"/>
<text x="293.2" y="168.7" class="k">PDZRN3</text>
<ellipse cx="271.3" cy="173.3" rx="8.5" ry="5.6" fill="#f7951d"/>
<text x="271.3" y="174.7" class="k">TRAF7</text>
<ellipse cx="324.8" cy="173.3" rx="8.5" ry="5.6" fill="#f7951d"/>
<text x="324.8" y="174.7" class="k">MID1</text>
<ellipse cx="297.7" cy="184.8" rx="8.5" ry="5.6" fill="#f7951d"/>
<text x="297.7" y="186.2" class="k">DCUN1D3</text></g>
<g id="nodesC"><ellipse cx="25.8" cy="286.2" rx="8.5" ry="5.6" fill="#f7951d"/>
<text x="25.8" y="287.6" class="k">RNF180</text>
<ellipse cx="47.7" cy="286.2" rx="8.5" ry="5.6" fill="#f7951d"/>
<text x="47.7" y="287.6" class="k">RNF181</text>
<ellipse cx="15.6" cy="305.0" rx="8.5" ry="5.6" fill="#f7951d"/>
<text x="15.6" y="306.4" class="k">USP54</text>
<polygon points="46.2,305.0 41.5,313.1 32.2,313.1 27.6,305.0 32.2,296.9 41.5,296.9" fill="#0a0acd"/>
<text x="36.9" y="306.4" class="w">KIF20A</text>
<ellipse cx="58.2" cy="305.0" rx="8.5" ry="5.6" fill="#f7951d"/>
<text x="58.2" y="306.4" class="k">USP4</text>
<ellipse cx="25.8" cy="323.5" rx="8.5" ry="5.6" fill="#f7951d"/>
<text x="25.8" y="324.9" class="k">HECTD4</text>
<ellipse cx="47.7" cy="323.5" rx="8.5" ry="5.6" fill="#f7951d"/>
<text x="47.7" y="324.9" class="k">HERC3</text>
<ellipse cx="106.6" cy="277.4" rx="8.5" ry="5.6" fill="#f7951d"/>
<text x="106.6" y="278.8" class="k">BTBD2</text>
<ellipse cx="131.4" cy="287.4" rx="8.5" ry="5.6" fill="#f7951d"/>
<text x="131.4" y="288.8" class="k">FBXO3</text>
<ellipse cx="101.1" cy="298.2" rx="8.5" ry="5.6" fill="#f7951d"/>
<text x="101.1" y="299.6" class="k">UCHL1</text>
<ellipse cx="89.1" cy="311.4" rx="8.5" ry="5.6" fill="#1ec81e"/>
<text x="89.1" y="312.8" class="k">RBBP6</text>
<ellipse cx="115.0" cy="315.5" rx="8.5" ry="5.6" fill="#1ec81e"/>
<text x="115.0" y="316.9" class="k">USP39</text>
<polygon points="128.4,331.0 123.8,339.1 114.4,339.1 109.8,331.0 114.4,322.9 123.8,322.9" fill="#0a0acd"/>
<text x="119.1" y="332.4" class="w">AURKB</text>
<ellipse cx="85.3" cy="333.5" rx="8.5" ry="5.6" fill="#f7951d"/>
<text x="85.3" y="334.9" class="k">CUL2</text>
<ellipse cx="97.8" cy="346.3" rx="8.5" ry="5.6" fill="#f7951d"/>
<text x="97.8" y="347.7" class="k">FAF2</text>
<ellipse cx="116.2" cy="348.2" rx="8.5" ry="5.6" fill="#f7951d"/>
<text x="116.2" y="349.6" class="k">CUL1</text>
<ellipse cx="133.1" cy="341.0" rx="8.5" ry="5.6" fill="#1ec81e"/>
<text x="133.1" y="342.4" class="k">PRPF19</text>
<ellipse cx="139.3" cy="328.3" rx="8.5" ry="5.6" fill="#f7951d"/>
<text x="139.3" y="329.7" class="k">HERC1</text>
<ellipse cx="149.6" cy="307.3" rx="8.5" ry="5.6" fill="#f7951d"/>
<text x="149.6" y="308.7" class="k">TRIM7</text>
<polygon points="202.8,305.7 198.2,313.8 188.8,313.8 184.2,305.7 188.8,297.6 198.2,297.6" fill="#0a0acd"/>
<text x="193.5" y="307.1" class="w">CIT</text>
<ellipse cx="152.2" cy="338.0" rx="8.5" ry="5.6" fill="#1ec81e"/>
<text x="152.2" y="339.4" class="k">TRIM27</text>
<ellipse cx="152.5" cy="351.0" rx="8.5" ry="5.6" fill="#1ec81e"/>
<text x="152.5" y="352.4" class="k">TRIM28</text>
<ellipse cx="134.5" cy="355.2" rx="8.5" ry="5.6" fill="#1ec81e"/>
<text x="134.5" y="356.6" class="k">TRIM4</text>
<ellipse cx="116.1" cy="361.8" rx="8.5" ry="5.6" fill="#1ec81e"/>
<text x="116.1" y="363.2" class="k">VCP</text>
<ellipse cx="141.5" cy="365.0" rx="8.5" ry="5.6" fill="#1ec81e"/>
<text x="141.5" y="366.4" class="k">RNF213</text>
<ellipse cx="159.2" cy="363.2" rx="8.5" ry="5.6" fill="#f7951d"/>
<text x="159.2" y="364.6" class="k">PSMD1</text>
<polygon points="95.5,367.5 90.9,375.6 81.6,375.6 76.9,367.5 81.5,359.4 90.9,359.4" fill="#0a0acd"/>
<text x="86.2" y="368.9" class="w">PRC1</text>
<ellipse cx="113.0" cy="374.5" rx="8.5" ry="5.6" fill="#1ec81e"/>
<text x="113.0" y="375.9" class="k">UHRF1</text>
<ellipse cx="131.6" cy="376.5" rx="8.5" ry="5.6" fill="#1ec81e"/>
<text x="131.6" y="377.9" class="k">UBR5</text>
<ellipse cx="150.8" cy="377.5" rx="8.5" ry="5.6" fill="#f7951d"/>
<text x="150.8" y="378.9" class="k">USP9Y</text>
<ellipse cx="80.0" cy="388.0" rx="8.5" ry="5.6" fill="#f7951d"/>
<text x="80.0" y="389.4" class="k">FBXO21</text>
<ellipse cx="130.3" cy="388.4" rx="8.5" ry="5.6" fill="#1ec81e"/>
<text x="130.3" y="389.8" class="k">EIF3F</text>
<ellipse cx="148.4" cy="394.2" rx="8.5" ry="5.6" fill="#f7951d"/>
<text x="148.4" y="395.6" class="k">TRIM32</text>
<polygon points="180.7,401.8 176.1,409.9 166.8,409.9 162.1,401.8 166.8,393.7 176.1,393.7" fill="#0a0acd"/>
<text x="171.4" y="403.2" class="w">ANLN</text>
<ellipse cx="197.0" cy="409.0" rx="8.5" ry="5.6" fill="#f7951d"/>
<text x="197.0" y="410.4" class="k">TRIM26</text>
<ellipse cx="146.3" cy="419.5" rx="8.5" ry="5.6" fill="#1ec81e"/>
<text x="146.3" y="420.9" class="k">HUWE1</text>
<polygon points="245.2,373.1 240.6,381.2 231.2,381.2 226.6,373.1 231.2,365.0 240.6,365.0" fill="#0a0acd"/>
<text x="235.9" y="374.5" class="w">KIF14</text>
<ellipse cx="83.5" cy="404.4" rx="8.5" ry="5.6" fill="#f7951d"/>
<text x="83.5" y="405.8" class="k">USP5</text>
<ellipse cx="61.0" cy="414.0" rx="8.5" ry="5.6" fill="#f7951d"/>
<text x="61.0" y="415.4" class="k">UBE4B</text>
<ellipse cx="42.7" cy="433.3" rx="8.5" ry="5.6" fill="#f7951d"/>
<text x="42.7" y="434.7" class="k">TRIM37</text>
<ellipse cx="67.7" cy="430.8" rx="8.5" ry="5.6" fill="#f7951d"/>
<text x="67.7" y="432.2" class="k">RNF2</text>
<ellipse cx="118.5" cy="409.5" rx="8.5" ry="5.6" fill="#f7951d"/>
<text x="118.5" y="410.9" class="k">TRIM5</text>
<polygon points="115.9,453.3 111.2,461.4 101.9,461.4 97.3,453.3 101.9,445.2 111.2,445.2" fill="#0a0acd"/>
<text x="106.6" y="454.7" class="w">KIF23</text></g>
<g id="nodesD"><ellipse cx="422.3" cy="248.2" rx="8.5" ry="5.6" fill="#f7951d"/>
<text x="422.3" y="249.5" class="k">UHRF2</text>
<ellipse cx="398.5" cy="255.9" rx="8.5" ry="5.6" fill="#f7951d"/>
<text x="398.5" y="257.2" class="k">TRIP12</text>
<polygon points="424.8,268.3 420.1,276.4 410.9,276.4 406.2,268.3 410.9,260.2 420.1,260.2" fill="#0a0acd"/>
<text x="415.5" y="269.7" class="w">CIT</text>
<ellipse cx="437.2" cy="268.3" rx="8.5" ry="5.6" fill="#1ec81e"/>
<text x="437.2" y="269.7" class="k">RNF40</text>
<ellipse cx="398.5" cy="281.3" rx="8.5" ry="5.6" fill="#f7951d"/>
<text x="398.5" y="282.7" class="k">UBR4</text>
<ellipse cx="422.3" cy="288.4" rx="8.5" ry="5.6" fill="#f7951d"/>
<text x="422.3" y="289.8" class="k">RING1</text>
<ellipse cx="478.3" cy="292.1" rx="8.5" ry="5.6" fill="#f7951d"/>
<text x="478.3" y="293.5" class="k">UBA1</text>
<ellipse cx="405.5" cy="305.2" rx="8.5" ry="5.6" fill="#1ec81e"/>
<text x="405.5" y="306.6" class="k">USP10</text>
<ellipse cx="451.7" cy="333.7" rx="8.5" ry="5.6" fill="#f7951d"/>
<text x="451.7" y="335.1" class="k">USP9X</text>
<ellipse cx="437.1" cy="344.0" rx="8.5" ry="5.6" fill="#f7951d"/>
<text x="437.1" y="345.4" class="k">MYCBP2</text>
<ellipse cx="493.4" cy="347.4" rx="8.5" ry="5.6" fill="#f7951d"/>
<text x="493.4" y="348.8" class="k">NEDD4L</text>
<ellipse cx="466.6" cy="358.7" rx="8.5" ry="5.6" fill="#f7951d"/>
<text x="466.6" y="360.1" class="k">TRIM41</text>
<ellipse cx="520.6" cy="358.7" rx="8.5" ry="5.6" fill="#f7951d"/>
<text x="520.6" y="360.1" class="k">USP36</text>
<ellipse cx="488.8" cy="365.5" rx="8.5" ry="5.6" fill="#f7951d"/>
<text x="488.8" y="366.9" class="k">AUP1</text>
<ellipse cx="506.7" cy="369.3" rx="8.5" ry="5.6" fill="#f7951d"/>
<text x="506.7" y="370.7" class="k">PSMD4</text>
<ellipse cx="473.7" cy="376.4" rx="8.5" ry="5.6" fill="#f7951d"/>
<text x="473.7" y="377.8" class="k">TRIM68</text>
<ellipse cx="424.2" cy="372.6" rx="8.5" ry="5.6" fill="#1ec81e"/>
<text x="424.2" y="374.0" class="k">CUL3</text>
<polygon points="503.1,385.6 498.4,393.7 489.2,393.7 484.5,385.6 489.2,377.5 498.4,377.5" fill="#0a0acd"/>
<text x="493.8" y="387.0" class="w">KIF14</text>
<ellipse cx="514.5" cy="385.6" rx="8.5" ry="5.6" fill="#f7951d"/>
<text x="514.5" y="387.0" class="k">CDC23</text>
<ellipse cx="531.5" cy="385.6" rx="8.5" ry="5.6" fill="#f7951d"/>
<text x="531.5" y="387.0" class="k">FZR1</text>
<ellipse cx="455.1" cy="389.3" rx="8.5" ry="5.6" fill="#f7951d"/>
<text x="455.1" y="390.7" class="k">PPIL2</text>
<ellipse cx="473.7" cy="394.9" rx="8.5" ry="5.6" fill="#f7951d"/>
<text x="473.7" y="396.2" class="k">TRIM39</text>
<ellipse cx="506.7" cy="402.0" rx="8.5" ry="5.6" fill="#f7951d"/>
<text x="506.7" y="403.4" class="k">UBA6</text>
<ellipse cx="488.8" cy="405.7" rx="8.5" ry="5.6" fill="#f7951d"/>
<text x="488.8" y="407.1" class="k">PDZRN3</text>
<ellipse cx="466.6" cy="412.5" rx="8.5" ry="5.6" fill="#f7951d"/>
<text x="466.6" y="413.9" class="k">TRAF7</text>
<ellipse cx="520.0" cy="412.5" rx="8.5" ry="5.6" fill="#f7951d"/>
<text x="520.0" y="413.9" class="k">MID1</text>
<ellipse cx="493.4" cy="422.7" rx="8.5" ry="5.6" fill="#f7951d"/>
<text x="493.4" y="424.1" class="k">DCUN1D3</text>
<polygon points="404.5,393.5 399.8,401.6 390.6,401.6 385.9,393.5 390.6,385.4 399.8,385.4" fill="#0a0acd"/>
<text x="395.2" y="394.9" class="w">ANLN</text>
<ellipse cx="429.5" cy="436.0" rx="8.5" ry="5.6" fill="#f7951d"/>
<text x="429.5" y="437.4" class="k">UBE2O</text>
<ellipse cx="431.0" cy="454.3" rx="8.5" ry="5.6" fill="#f7951d"/>
<text x="431.0" y="455.7" class="k">TRIM56</text>
<ellipse cx="314.0" cy="304.7" rx="8.5" ry="5.6" fill="#1ec81e"/>
<text x="314.0" y="306.1" class="k">RBBP6</text>
<ellipse cx="339.5" cy="308.4" rx="8.5" ry="5.6" fill="#1ec81e"/>
<text x="339.5" y="309.8" class="k">USP39</text>
<polygon points="287.8,323.4 283.1,331.5 273.9,331.5 269.2,323.4 273.9,315.3 283.1,315.3" fill="#0a0acd"/>
<text x="278.5" y="324.8" class="w">KIF20A</text>
<polygon points="352.7,323.6 348.0,331.7 338.8,331.7 334.1,323.6 338.8,315.5 348.0,315.5" fill="#0a0acd"/>
<text x="343.4" y="325.0" class="w">AURKB</text>
<ellipse cx="363.8" cy="321.0" rx="8.5" ry="5.6" fill="#f7951d"/>
<text x="363.8" y="322.4" class="k">HERC1</text>
<ellipse cx="357.4" cy="334.0" rx="8.5" ry="5.6" fill="#1ec81e"/>
<text x="357.4" y="335.4" class="k">PRPF19</text>
<ellipse cx="376.7" cy="330.6" rx="8.5" ry="5.6" fill="#1ec81e"/>
<text x="376.7" y="332.0" class="k">TRIM27</text>
<ellipse cx="322.5" cy="339.1" rx="8.5" ry="5.6" fill="#f7951d"/>
<text x="322.5" y="340.5" class="k">FAF2</text>
<ellipse cx="341.2" cy="341.2" rx="8.5" ry="5.6" fill="#f7951d"/>
<text x="341.2" y="342.6" class="k">CUL1</text>
<ellipse cx="376.9" cy="343.5" rx="8.5" ry="5.6" fill="#1ec81e"/>
<text x="376.9" y="344.9" class="k">TRIM28</text>
<ellipse cx="359.5" cy="347.7" rx="8.5" ry="5.6" fill="#1ec81e"/>
<text x="359.5" y="349.1" class="k">TRIM4</text>
<ellipse cx="341.0" cy="354.3" rx="8.5" ry="5.6" fill="#1ec81e"/>
<text x="341.0" y="355.7" class="k">VCP</text>
<ellipse cx="383.7" cy="355.1" rx="8.5" ry="5.6" fill="#f7951d"/>
<text x="383.7" y="356.5" class="k">PSMD1</text>
<ellipse cx="366.0" cy="357.2" rx="8.5" ry="5.6" fill="#1ec81e"/>
<text x="366.0" y="358.6" class="k">RNF213</text>
<polygon points="320.7,359.8 316.0,367.9 306.8,367.9 302.1,359.8 306.8,351.7 316.0,351.7" fill="#0a0acd"/>
<text x="311.4" y="361.2" class="w">PRC1</text>
<ellipse cx="338.2" cy="367.0" rx="8.5" ry="5.6" fill="#1ec81e"/>
<text x="338.2" y="368.4" class="k">UHRF1</text>
<ellipse cx="356.3" cy="368.7" rx="8.5" ry="5.6" fill="#1ec81e"/>
<text x="356.3" y="370.1" class="k">UBR5</text>
<ellipse cx="375.2" cy="369.5" rx="8.5" ry="5.6" fill="#f7951d"/>
<text x="375.2" y="370.9" class="k">USP9Y</text>
<ellipse cx="305.2" cy="379.8" rx="8.5" ry="5.6" fill="#f7951d"/>
<text x="305.2" y="381.2" class="k">FBXO21</text>
<ellipse cx="356.3" cy="380.6" rx="8.5" ry="5.6" fill="#1ec81e"/>
<text x="356.3" y="382.0" class="k">EIF3F</text>
<ellipse cx="336.2" cy="389.3" rx="8.5" ry="5.6" fill="#1ec81e"/>
<text x="336.2" y="390.7" class="k">CUL4A</text>
<ellipse cx="372.8" cy="386.4" rx="8.5" ry="5.6" fill="#f7951d"/>
<text x="372.8" y="387.8" class="k">TRIM32</text>
<ellipse cx="308.7" cy="396.9" rx="8.5" ry="5.6" fill="#f7951d"/>
<text x="308.7" y="398.2" class="k">USP5</text>
<ellipse cx="343.1" cy="401.4" rx="8.5" ry="5.6" fill="#f7951d"/>
<text x="343.1" y="402.8" class="k">TRIM5</text>
<ellipse cx="370.9" cy="411.2" rx="8.5" ry="5.6" fill="#1ec81e"/>
<text x="370.9" y="412.6" class="k">HUWE1</text>
<ellipse cx="286.9" cy="415.2" rx="8.5" ry="5.6" fill="#f7951d"/>
<text x="286.9" y="416.6" class="k">TRIM37</text>
<ellipse cx="348.8" cy="426.2" rx="8.5" ry="5.6" fill="#f7951d"/>
<text x="348.8" y="427.6" class="k">LONRF2</text>
<ellipse cx="325.0" cy="433.8" rx="8.5" ry="5.6" fill="#f7951d"/>
<text x="325.0" y="435.2" class="k">OTUD4</text>
<polygon points="351.9,446.3 347.2,454.4 338.0,454.4 333.3,446.3 338.0,438.2 347.2,438.2" fill="#0a0acd"/>
<text x="342.6" y="447.7" class="w">KIF23</text>
<ellipse cx="363.9" cy="446.3" rx="8.5" ry="5.6" fill="#1ec81e"/>
<text x="363.9" y="447.7" class="k">USP7</text>
<ellipse cx="325.0" cy="458.9" rx="8.5" ry="5.6" fill="#f7951d"/>
<text x="325.0" y="460.2" class="k">ATG7</text>
<ellipse cx="348.8" cy="466.6" rx="8.5" ry="5.6" fill="#f7951d"/>
<text x="348.8" y="468.0" class="k">MKRN3</text></g>
<!-- frame -->
<g fill="none" stroke="#555" stroke-width="1">
<rect x="2.5" y="2.7" width="544" height="475"/>
<line x1="2.5" y1="239.3" x2="546.5" y2="239.3"/>
<line x1="395.3" y1="2.7" x2="395.3" y2="239.3"/>
<line x1="257" y1="239.3" x2="257" y2="477.5"/>
</g>
<text class="pl" x="5.8" y="14.4">A</text>
<text class="pl" x="397.5" y="14.4">B</text>
<text class="pl" x="5.2" y="254.3">C</text>
<text class="pl" x="260.3" y="254.3">D</text>
<text class="tt" x="24.6" y="251.9">Transient midbody proteins</text>
<text class="tt" x="279.8" y="251.9">Stable midbody proteins</text>
<!-- legend -->
<polygon points="315.9,12.3 313.4,16.6 308.4,16.6 305.9,12.3 308.4,8.0 313.4,8.0" fill="#0a0acd"/>
<ellipse cx="310.9" cy="22.1" rx="5" ry="3.1" fill="#f7951d"/>
<ellipse cx="310.9" cy="30.8" rx="5" ry="3.1" fill="#1ec81e"/>
<text class="lg" x="319" y="14.9">bait</text>
<text class="lg" x="319" y="23.8">prey</text>
<text class="lg" x="319" y="32.7">prey (midbody proteome)</text>
<!-- mascot -->
<text x="18.2" y="223" style="font-size:6.4px;fill:#111">Mascot score</text>
<rect x="14.5" y="224" width="45.5" height="3.6" fill="url(#ms)"/>
<text x="13.6" y="232.6" style="font-size:4.5px;fill:#222">50</text>
<text x="55" y="232.6" style="font-size:4.5px;fill:#222">&gt;1000</text>
<!-- venn -->
<circle cx="470.8" cy="132.2" r="53.7" fill="#f272ac"/>
<circle cx="471.2" cy="101.4" r="44.2" fill="#6cc6ee"/>
<clipPath id="cp"><circle cx="470.8" cy="132.2" r="53.7"/></clipPath>
<circle cx="471.2" cy="101.4" r="44.2" fill="#7a98cf" clip-path="url(#cp)"/>
<text class="vn" x="470.6" y="70.8" text-decoration="underline">Transient</text>
<text class="vn" x="500" y="84">14</text>
<text class="vn" x="469.3" y="114.3">29</text>
<text class="vn" x="441.8" y="157.7">33</text>
<text class="vn" x="470.6" y="169.2" text-decoration="underline">Stable</text>
</svg>
</body></html>
